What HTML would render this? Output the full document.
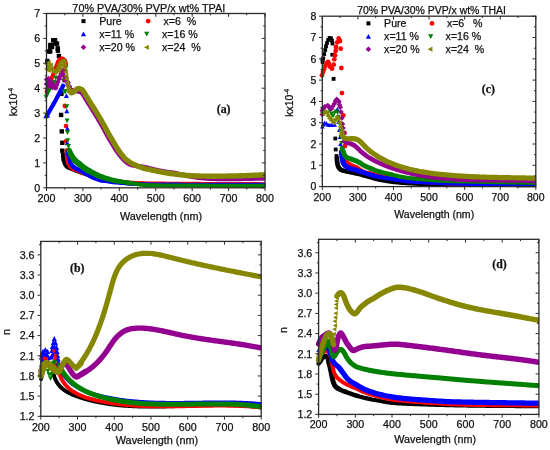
<!DOCTYPE html>
<html><head><meta charset="utf-8"><style>
html,body{margin:0;padding:0;background:#fff;}
body{width:550px;height:450px;overflow:hidden;font-family:"Liberation Sans",sans-serif;}
svg{display:block;will-change:transform;}
</style></head><body>
<svg width="550" height="450" viewBox="0 0 550 450" fill="#111" stroke-width="0">
<clipPath id="clipa"><rect x="34.50" y="11.50" width="230.80" height="178.30"/></clipPath>
<g clip-path="url(#clipa)">
<rect x="45.10" y="58.80" width="4.40" height="4.40" fill="#000000"/>
<rect x="51.00" y="38.00" width="4.40" height="4.40" fill="#000000"/>
<rect x="52.80" y="38.00" width="4.40" height="4.40" fill="#000000"/>
<rect x="53.30" y="41.20" width="4.40" height="4.40" fill="#000000"/>
<rect x="54.80" y="41.40" width="4.40" height="4.40" fill="#000000"/>
<rect x="48.10" y="42.80" width="4.40" height="4.40" fill="#000000"/>
<rect x="49.80" y="42.80" width="4.40" height="4.40" fill="#000000"/>
<rect x="48.10" y="44.80" width="4.40" height="4.40" fill="#000000"/>
<rect x="49.80" y="44.80" width="4.40" height="4.40" fill="#000000"/>
<rect x="46.10" y="49.30" width="4.40" height="4.40" fill="#000000"/>
<rect x="48.00" y="49.30" width="4.40" height="4.40" fill="#000000"/>
<rect x="55.50" y="46.10" width="4.40" height="4.40" fill="#000000"/>
<rect x="55.70" y="48.50" width="4.40" height="4.40" fill="#000000"/>
<rect x="56.70" y="53.80" width="4.40" height="4.40" fill="#000000"/>
<rect x="59.20" y="91.60" width="4.40" height="4.40" fill="#000000"/>
<rect x="58.90" y="112.70" width="4.40" height="4.40" fill="#000000"/>
<rect x="59.60" y="129.20" width="4.40" height="4.40" fill="#000000"/>
<rect x="60.10" y="140.60" width="4.40" height="4.40" fill="#000000"/>
<rect x="60.10" y="148.50" width="4.40" height="4.40" fill="#000000"/>
<rect x="60.90" y="152.80" width="4.40" height="4.40" fill="#000000"/>
<rect x="61.60" y="156.80" width="4.40" height="4.40" fill="#000000"/>
<polyline points="63.10,155.00 63.15,156.08 63.23,157.63 63.38,159.27 63.68,160.80 64.15,162.41 64.71,163.87 65.44,165.29 66.42,166.49 67.63,167.43 69.09,168.11 70.57,168.75 71.74,169.24 73.15,169.80 75.00,170.50 76.04,170.88 77.18,171.29 78.40,171.72 79.71,172.18 81.11,172.67 82.60,173.18 84.18,173.72 85.57,174.20 86.75,174.62 87.97,175.06 89.23,175.53 90.53,176.01 91.88,176.50 93.26,176.99 94.68,177.47 96.15,177.94 97.66,178.38 99.21,178.80 100.60,179.15 101.81,179.43 103.03,179.71 104.26,179.98 105.51,180.25 106.77,180.50 108.07,180.75 109.40,181.00 110.76,181.23 112.17,181.46 113.62,181.68 115.13,181.90 116.69,182.11 118.31,182.31 120.00,182.50 121.12,182.63 122.12,182.75 123.02,182.87 123.84,182.99 124.62,183.10 125.36,183.21 126.11,183.31 126.88,183.42 127.70,183.51 128.58,183.61 129.57,183.70 130.67,183.79 131.92,183.88 133.33,183.96 134.94,184.05 136.77,184.13 138.83,184.20 141.17,184.28 143.79,184.35 146.72,184.43 150.00,184.50 150.91,184.52 151.85,184.54 152.84,184.55 153.86,184.57 154.93,184.59 156.03,184.61 157.17,184.62 158.34,184.64 159.54,184.66 160.78,184.68 162.05,184.69 163.35,184.71 164.68,184.73 166.03,184.74 167.42,184.76 168.83,184.77 170.26,184.79 171.72,184.81 173.21,184.82 174.71,184.84 176.23,184.85 177.78,184.87 179.34,184.88 180.92,184.90 182.52,184.91 184.13,184.93 185.75,184.94 187.39,184.95 189.04,184.97 190.70,184.98 192.37,185.00 194.05,185.01 195.74,185.02 197.43,185.04 199.13,185.05 200.83,185.06 202.54,185.08 204.25,185.09 205.96,185.10 207.67,185.11 209.38,185.12 211.08,185.14 212.78,185.15 214.48,185.16 216.17,185.17 217.86,185.18 219.54,185.20 221.21,185.21 222.87,185.22 224.52,185.23 226.16,185.24 227.78,185.25 229.39,185.26 230.98,185.27 232.56,185.28 234.12,185.29 235.66,185.30 237.19,185.31 238.69,185.32 240.17,185.33 241.62,185.34 243.06,185.35 244.46,185.36 245.85,185.37 247.20,185.37 248.53,185.38 249.82,185.39 251.09,185.40 252.32,185.41 253.53,185.42 254.69,185.42 255.83,185.43 256.92,185.44 257.98,185.45 259.01,185.45 259.99,185.46 260.93,185.47 261.83,185.47 262.69,185.48 263.51,185.49 264.28,185.49 265.00,185.50 265.00,185.50" fill="none" stroke="#000000" stroke-width="3.8" stroke-linejoin="round" stroke-linecap="round"/>
<circle cx="46.50" cy="91.50" r="1.90" fill="#ff0000"/>
<circle cx="47.30" cy="89.50" r="1.90" fill="#ff0000"/>
<polyline points="47.00,90.00 47.39,88.96 47.94,87.48 48.50,86.00 49.00,84.65 49.50,83.30 50.00,82.00 50.60,80.56 51.20,79.19 51.79,77.82 52.36,76.51 53.00,75.00 53.53,73.70 54.12,72.26 54.71,70.75 55.25,69.32 55.77,67.89 56.29,66.44 56.77,65.10 57.32,63.65 57.89,62.20 58.50,61.00 59.50,59.81 60.50,59.00 62.00,58.50 63.35,59.00 64.43,59.98 65.21,61.23 65.67,62.77 65.88,64.62 66.00,66.00 66.00,66.00" fill="none" stroke="#ff0000" stroke-width="4.2" stroke-linejoin="round" stroke-linecap="round"/>
<circle cx="64.80" cy="105.80" r="2.30" fill="#ff0000"/>
<circle cx="65.40" cy="106.30" r="2.30" fill="#ff0000"/>
<circle cx="66.00" cy="126.00" r="2.30" fill="#ff0000"/>
<circle cx="65.90" cy="141.20" r="2.30" fill="#ff0000"/>
<circle cx="66.80" cy="150.50" r="2.30" fill="#ff0000"/>
<circle cx="67.20" cy="156.00" r="2.30" fill="#ff0000"/>
<polyline points="66.50,152.00 66.57,153.08 66.66,154.62 66.79,156.36 67.00,158.00 67.28,159.56 67.62,161.16 68.03,162.68 68.50,164.00 69.24,165.41 70.09,166.54 71.00,167.50 72.16,168.46 73.39,169.19 74.63,169.77 75.90,170.13 77.47,170.67 78.48,171.06 79.62,171.51 80.92,172.01 82.39,172.56 84.07,173.17 85.53,173.69 86.65,174.10 87.83,174.54 89.08,175.02 90.39,175.51 91.75,176.01 93.16,176.51 94.62,177.00 96.11,177.47 97.64,177.91 99.21,178.31 100.63,178.64 101.88,178.91 103.14,179.16 104.41,179.40 105.71,179.63 107.03,179.84 108.38,180.05 109.76,180.25 111.18,180.44 111.91,180.53" fill="none" stroke="#ff0000" stroke-width="4.0" stroke-linejoin="round" stroke-linecap="round"/>
<polyline points="111.91,180.53 113.41,180.71 114.96,180.89 116.57,181.06 118.25,181.23 120.00,181.40 121.12,181.51 122.12,181.62 123.02,181.72 123.84,181.83 124.62,181.93 125.36,182.03 126.11,182.12 126.88,182.22 127.70,182.31 128.58,182.39 129.57,182.48 130.67,182.56 131.92,182.64 133.33,182.72 134.94,182.80 136.77,182.87 138.83,182.94 141.17,183.01 142.44,183.04" fill="none" stroke="#ff0000" stroke-width="3.75" stroke-linejoin="round" stroke-linecap="round"/>
<polyline points="142.44,183.04 145.22,183.11 148.32,183.17 150.45,183.21 151.37,183.22 152.34,183.24 153.35,183.25 154.39,183.27 155.47,183.28 156.59,183.29 157.75,183.31 158.94,183.32 160.16,183.34 161.41,183.35 162.69,183.36 164.01,183.37 165.35,183.39 166.72,183.40 168.12,183.41 169.54,183.42 170.99,183.43 172.46,183.45 173.95,183.46 175.47,183.47 177.00,183.48 178.56,183.49 180.13,183.50 181.72,183.51 183.32,183.52 184.94,183.53 186.57,183.54 188.21,183.55 189.87,183.56 191.54,183.57 193.21,183.58 194.89,183.59 196.58,183.60 198.28,183.61 199.98,183.62 201.69,183.63 203.39,183.63 205.10,183.64 206.81,183.65 208.52,183.66 210.23,183.67 211.93,183.67 213.63,183.68 215.33,183.69 217.02,183.70 218.70,183.70 220.38,183.71 222.04,183.72 223.70,183.73 225.34,183.73 226.97,183.74 228.59,183.75 230.19,183.75 231.77,183.76 233.34,183.76 234.90,183.77 236.43,183.78 237.94,183.78 239.43,183.79 240.90,183.79 242.34,183.80 243.76,183.81 245.16,183.81 246.53,183.82 247.87,183.82 249.18,183.83 250.46,183.83 251.71,183.84 252.93,183.84 254.11,183.85 255.26,183.85 256.38,183.86 257.46,183.86 258.50,183.87 259.50,183.87 260.46,183.88 261.39,183.88 262.27,183.88 263.10,183.89 263.90,183.89 264.64,183.90 265.00,183.90" fill="none" stroke="#ff0000" stroke-width="3.5" stroke-linejoin="round" stroke-linecap="round"/>
<polyline points="46.50,116.00 47.80,114.00 55.80,100.00 63.00,86.00 63.80,84.00" fill="none" stroke="#0000ff" stroke-width="4.3" stroke-linejoin="round" stroke-linecap="butt"/>
<polygon points="45.80,113.50 48.30,118.25 43.30,118.25" fill="#0000ff"/>
<polygon points="47.50,113.00 50.00,117.75 45.00,117.75" fill="#0000ff"/>
<polygon points="66.40,93.20 68.90,97.95 63.90,97.95" fill="#0000ff"/>
<polygon points="66.80,108.50 69.30,113.25 64.30,113.25" fill="#0000ff"/>
<polygon points="67.40,126.00 69.90,130.75 64.90,130.75" fill="#0000ff"/>
<polygon points="67.30,140.50 69.80,145.25 64.80,145.25" fill="#0000ff"/>
<polygon points="68.00,147.50 70.50,152.25 65.50,152.25" fill="#0000ff"/>
<polyline points="68.00,153.00 68.20,154.06 68.48,155.59 68.82,157.24 69.18,158.73 69.56,160.22 69.98,161.68 70.50,163.00 71.24,164.33 72.09,165.50 73.00,166.50 74.21,167.46 75.46,168.19 76.59,168.83 78.00,169.50 79.03,170.00 80.28,170.61 81.70,171.31 83.22,172.09 84.55,172.80 85.71,173.47 86.93,174.19 88.19,174.94 89.47,175.68 90.75,176.38 92.00,177.00 93.31,177.60 94.59,178.16 95.88,178.68 97.19,179.16 98.55,179.60 100.00,180.00 101.32,180.31 101.32,180.31" fill="none" stroke="#0000ff" stroke-width="4.5" stroke-linejoin="round" stroke-linecap="round"/>
<polyline points="101.32,180.31 102.71,180.57 104.15,180.80 105.61,181.02 107.08,181.21 108.55,181.40 110.00,181.60 111.21,181.79 112.13,181.96 112.97,182.13 112.97,182.13" fill="none" stroke="#0000ff" stroke-width="4.25" stroke-linejoin="round" stroke-linecap="round"/>
<polyline points="112.97,182.13 113.97,182.29 115.32,182.45 117.26,182.62 120.00,182.80 120.88,182.86 121.73,182.91 122.56,182.97 123.38,183.03 124.20,183.10 125.03,183.16 125.87,183.23 126.74,183.30 127.65,183.36 128.60,183.43 129.61,183.50 130.68,183.57 131.84,183.63 133.07,183.70 134.40,183.76 135.83,183.83 135.83,183.83" fill="none" stroke="#0000ff" stroke-width="4.0" stroke-linejoin="round" stroke-linecap="round"/>
<polyline points="135.83,183.83 137.38,183.89 139.05,183.95 140.85,184.01 142.80,184.07 144.90,184.12 147.16,184.17 149.59,184.22 152.20,184.26 155.00,184.30 155.94,184.31 156.93,184.32 157.96,184.34 159.02,184.35 160.12,184.36 161.26,184.37 162.43,184.38 163.64,184.39 164.88,184.40 166.15,184.41 167.46,184.42 168.79,184.43 170.15,184.43 171.54,184.44 172.95,184.45 174.39,184.46 175.86,184.47 177.34,184.47 178.85,184.48 180.38,184.49 181.93,184.50 183.49,184.50 185.08,184.51 186.67,184.52 188.29,184.52 189.91,184.53 191.55,184.53 193.20,184.54 194.86,184.55 196.53,184.55 198.21,184.56 199.89,184.56 201.58,184.57 203.27,184.57 204.97,184.58 206.67,184.58 208.37,184.58 210.07,184.59 211.76,184.59 213.46,184.60 215.15,184.60 216.84,184.60 218.52,184.61 220.19,184.61 221.86,184.61 223.51,184.62 225.16,184.62 226.79,184.62 228.41,184.63 230.02,184.63 231.61,184.63 233.18,184.64 234.74,184.64 236.28,184.64 237.80,184.64 239.30,184.65 240.77,184.65 242.23,184.65 243.65,184.65 245.06,184.66 246.43,184.66 247.78,184.66 249.10,184.66 250.39,184.67 251.65,184.67 252.88,184.67 254.07,184.67 255.23,184.68 256.35,184.68 257.43,184.68 258.48,184.68 259.49,184.68 260.45,184.69 261.38,184.69 262.26,184.69 263.10,184.69 263.90,184.70 264.64,184.70 265.00,184.70" fill="none" stroke="#0000ff" stroke-width="3.75" stroke-linejoin="round" stroke-linecap="round"/>
<polygon points="46.00,99.50 48.50,94.75 43.50,94.75" fill="#008000"/>
<polygon points="47.00,97.50 49.50,92.75 44.50,92.75" fill="#008000"/>
<polygon points="48.00,95.50 50.50,90.75 45.50,90.75" fill="#008000"/>
<polygon points="49.00,93.50 51.50,88.75 46.50,88.75" fill="#008000"/>
<polygon points="50.00,91.50 52.50,86.75 47.50,86.75" fill="#008000"/>
<polygon points="51.00,90.00 53.50,85.25 48.50,85.25" fill="#008000"/>
<polygon points="55.60,80.30 58.10,75.55 53.10,75.55" fill="#008000"/>
<polygon points="54.50,84.50 57.00,79.75 52.00,79.75" fill="#008000"/>
<polygon points="54.00,87.00 56.50,82.25 51.50,82.25" fill="#008000"/>
<polygon points="63.20,83.20 65.70,78.45 60.70,78.45" fill="#008000"/>
<polygon points="64.50,93.70 67.00,88.95 62.00,88.95" fill="#008000"/>
<polygon points="65.30,94.30 67.80,89.55 62.80,89.55" fill="#008000"/>
<polygon points="66.80,109.10 69.30,104.35 64.30,104.35" fill="#008000"/>
<polygon points="67.10,123.20 69.60,118.45 64.60,118.45" fill="#008000"/>
<polygon points="67.50,135.00 70.00,130.25 65.00,130.25" fill="#008000"/>
<polygon points="67.80,143.10 70.30,138.35 65.30,138.35" fill="#008000"/>
<polygon points="68.50,148.80 71.00,144.05 66.00,144.05" fill="#008000"/>
<polyline points="69.00,150.00 69.44,151.10 69.44,151.10" fill="none" stroke="#008000" stroke-width="5.0" stroke-linejoin="round" stroke-linecap="round"/>
<polyline points="69.44,151.10 70.11,152.68 70.11,152.68" fill="none" stroke="#008000" stroke-width="5.25" stroke-linejoin="round" stroke-linecap="round"/>
<polyline points="70.11,152.68 70.80,154.10 71.45,155.40 71.45,155.40" fill="none" stroke="#008000" stroke-width="5.5" stroke-linejoin="round" stroke-linecap="round"/>
<polyline points="71.45,155.40 72.18,156.74 73.00,158.00 73.93,159.17 74.43,159.74" fill="none" stroke="#008000" stroke-width="5.75" stroke-linejoin="round" stroke-linecap="round"/>
<polyline points="74.43,159.74 75.47,160.81 76.50,161.80 77.61,162.73 78.72,163.54 80.00,164.50 80.97,165.30 82.01,166.19 83.13,167.12 84.35,168.05 85.56,168.86 86.74,169.60 87.99,170.33 89.30,171.06 89.30,171.06" fill="none" stroke="#008000" stroke-width="6.0" stroke-linejoin="round" stroke-linecap="round"/>
<polyline points="89.30,171.06 90.64,171.78 92.00,172.50 93.25,173.15 94.52,173.80 95.81,174.45 96.47,174.77" fill="none" stroke="#008000" stroke-width="5.75" stroke-linejoin="round" stroke-linecap="round"/>
<polyline points="96.47,174.77 97.84,175.40 99.26,176.00 100.65,176.55 102.01,177.05 102.71,177.29" fill="none" stroke="#008000" stroke-width="5.5" stroke-linejoin="round" stroke-linecap="round"/>
<polyline points="102.71,177.29 104.15,177.78 105.61,178.24 107.08,178.69 107.82,178.90" fill="none" stroke="#008000" stroke-width="5.25" stroke-linejoin="round" stroke-linecap="round"/>
<polyline points="107.82,178.90 109.28,179.31 110.70,179.68 112.05,180.01 113.37,180.30 113.37,180.30" fill="none" stroke="#008000" stroke-width="5.0" stroke-linejoin="round" stroke-linecap="round"/>
<polyline points="113.37,180.30 114.69,180.57 116.06,180.83 117.53,181.09 119.13,181.36 120.00,181.50" fill="none" stroke="#008000" stroke-width="4.75" stroke-linejoin="round" stroke-linecap="round"/>
<polyline points="120.00,181.50 121.21,181.70 122.47,181.90 123.78,182.11 125.12,182.32 126.52,182.52 127.96,182.73 127.96,182.73" fill="none" stroke="#008000" stroke-width="4.5" stroke-linejoin="round" stroke-linecap="round"/>
<polyline points="127.96,182.73 129.44,182.93 130.98,183.13 132.55,183.33 134.17,183.51 135.58,183.67 136.47,183.80 137.09,183.93 137.33,184.00" fill="none" stroke="#008000" stroke-width="4.25" stroke-linejoin="round" stroke-linecap="round"/>
<polyline points="137.33,184.00 137.73,184.13 138.08,184.26 138.50,184.38 139.06,184.51 139.87,184.62 141.01,184.74 142.58,184.84 144.67,184.95 145.94,184.99" fill="none" stroke="#008000" stroke-width="4.0" stroke-linejoin="round" stroke-linecap="round"/>
<polyline points="145.94,184.99 148.99,185.08 152.79,185.16 155.42,185.21 156.29,185.22 157.21,185.23 158.18,185.24 159.18,185.25 160.23,185.27 161.32,185.28 162.45,185.29 163.61,185.30 164.81,185.31 166.05,185.32 167.32,185.33 168.62,185.34 169.96,185.34 171.32,185.35 172.72,185.36 174.14,185.37 175.59,185.38 177.06,185.39 178.56,185.39 180.08,185.40 181.62,185.41 183.19,185.41 184.77,185.42 186.37,185.43 187.99,185.43 189.62,185.44 191.27,185.44 192.93,185.45 194.60,185.46 196.28,185.46 197.97,185.47 199.67,185.47 201.37,185.48 203.09,185.48 204.80,185.48 206.52,185.49 208.24,185.49 209.96,185.50 211.68,185.50 213.40,185.50 215.11,185.51 216.82,185.51 218.53,185.52 220.23,185.52 221.92,185.52 223.60,185.52 225.27,185.53 226.92,185.53 228.57,185.53 230.20,185.54 231.82,185.54 233.41,185.54 234.99,185.54 236.55,185.55 238.09,185.55 239.61,185.55 241.11,185.55 242.58,185.56 244.03,185.56 245.44,185.56 246.84,185.56 248.20,185.56 249.53,185.57 250.83,185.57 252.10,185.57 253.33,185.57 254.52,185.57 255.69,185.58 256.81,185.58 257.89,185.58 258.93,185.58 259.94,185.59 260.89,185.59 261.81,185.59 262.68,185.59 263.50,185.60 264.27,185.60 265.00,185.60 265.00,185.60" fill="none" stroke="#008000" stroke-width="3.75" stroke-linejoin="round" stroke-linecap="round"/>
<polygon points="46.50,76.80 49.20,79.50 46.50,82.20 43.80,79.50" fill="#940090"/>
<polygon points="46.50,81.30 49.20,84.00 46.50,86.70 43.80,84.00" fill="#940090"/>
<polygon points="48.50,75.80 51.20,78.50 48.50,81.20 45.80,78.50" fill="#940090"/>
<polygon points="48.50,79.80 51.20,82.50 48.50,85.20 45.80,82.50" fill="#940090"/>
<polygon points="48.50,83.30 51.20,86.00 48.50,88.70 45.80,86.00" fill="#940090"/>
<polygon points="50.50,78.80 53.20,81.50 50.50,84.20 47.80,81.50" fill="#940090"/>
<polygon points="50.50,82.80 53.20,85.50 50.50,88.20 47.80,85.50" fill="#940090"/>
<polygon points="52.50,81.30 55.20,84.00 52.50,86.70 49.80,84.00" fill="#940090"/>
<polygon points="52.50,84.80 55.20,87.50 52.50,90.20 49.80,87.50" fill="#940090"/>
<polygon points="54.50,84.80 57.20,87.50 54.50,90.20 51.80,87.50" fill="#940090"/>
<polygon points="56.00,85.30 58.70,88.00 56.00,90.70 53.30,88.00" fill="#940090"/>
<polygon points="57.00,82.30 59.70,85.00 57.00,87.70 54.30,85.00" fill="#940090"/>
<polygon points="58.00,79.30 60.70,82.00 58.00,84.70 55.30,82.00" fill="#940090"/>
<polygon points="59.00,76.30 61.70,79.00 59.00,81.70 56.30,79.00" fill="#940090"/>
<polygon points="60.00,73.80 62.70,76.50 60.00,79.20 57.30,76.50" fill="#940090"/>
<polygon points="61.00,71.30 63.70,74.00 61.00,76.70 58.30,74.00" fill="#940090"/>
<polygon points="62.00,69.30 64.70,72.00 62.00,74.70 59.30,72.00" fill="#940090"/>
<polygon points="63.00,67.30 65.70,70.00 63.00,72.70 60.30,70.00" fill="#940090"/>
<polygon points="64.00,66.80 66.70,69.50 64.00,72.20 61.30,69.50" fill="#940090"/>
<polygon points="62.00,71.30 64.70,74.00 62.00,76.70 59.30,74.00" fill="#940090"/>
<polygon points="63.50,72.80 66.20,75.50 63.50,78.20 60.80,75.50" fill="#940090"/>
<polygon points="59.00,75.30 61.70,78.00 59.00,80.70 56.30,78.00" fill="#940090"/>
<polygon points="64.50,68.80 67.20,71.50 64.50,74.20 61.80,71.50" fill="#940090"/>
<polygon points="64.50,73.80 67.20,76.50 64.50,79.20 61.80,76.50" fill="#940090"/>
<polygon points="64.50,77.30 67.20,80.00 64.50,82.70 61.80,80.00" fill="#940090"/>
<polygon points="66.00,76.80 68.70,79.50 66.00,82.20 63.30,79.50" fill="#940090"/>
<polygon points="67.00,79.80 69.70,82.50 67.00,85.20 64.30,82.50" fill="#940090"/>
<polygon points="68.20,79.80 70.90,82.50 68.20,85.20 65.50,82.50" fill="#940090"/>
<polygon points="68.50,83.30 71.20,86.00 68.50,88.70 65.80,86.00" fill="#940090"/>
<polygon points="69.50,83.80 72.20,86.50 69.50,89.20 66.80,86.50" fill="#940090"/>
<polygon points="70.50,86.30 73.20,89.00 70.50,91.70 67.80,89.00" fill="#940090"/>
<polygon points="71.80,87.30 74.50,90.00 71.80,92.70 69.10,90.00" fill="#940090"/>
<polyline points="73.00,91.50 74.17,90.71 75.72,90.64 77.37,91.30 78.93,91.59 80.39,91.50 81.70,92.65 82.36,93.53 83.07,94.59 83.83,95.80 84.64,97.11 85.47,98.50 86.31,99.91 87.17,101.31 87.95,102.55 88.66,103.68 89.41,104.86 90.17,106.07 90.94,107.30 91.72,108.54 92.50,109.78 93.26,111.02 94.02,112.23 94.75,113.42 95.49,114.65 96.29,115.97 97.09,117.31 97.89,118.65 98.66,119.97 99.41,121.24 100.11,122.44 100.76,123.55 101.34,124.55 102.16,125.97 102.90,127.28 103.43,128.26 104.10,129.50 104.74,130.69 105.44,132.00 106.17,133.38 106.90,134.73 107.60,136.00 108.34,137.30 109.05,138.54 109.76,139.74 110.45,140.92 111.18,142.15 111.94,143.42 112.68,144.65 113.42,145.88 114.18,147.12 114.93,148.35 115.69,149.57 116.48,150.79 117.33,152.00 118.21,153.21 119.13,154.40 120.10,155.60 121.05,156.74 121.98,157.85 122.94,158.96 123.95,160.02 125.00,161.00 126.09,161.90 127.22,162.75 128.40,163.53 129.64,164.21 130.98,164.76 132.42,165.17 133.92,165.48 135.46,165.74 137.00,166.00 138.40,166.22 139.83,166.41 141.26,166.59 142.66,166.78 144.00,167.00 145.48,167.32 146.81,167.67 148.24,168.06 150.00,168.50 151.17,168.79 152.42,169.10 153.74,169.42 155.15,169.77 156.66,170.11 158.27,170.46 160.00,170.80 161.25,171.03 162.62,171.26 164.07,171.49 165.57,171.72 167.11,171.96 168.66,172.19 170.19,172.43 171.67,172.65 173.08,172.88 174.39,173.09 175.87,173.36 177.47,173.66 178.94,173.94 180.31,174.22 181.63,174.50 182.95,174.78 184.30,175.06 185.70,175.34 187.05,175.64 188.37,175.94 189.69,176.24 191.06,176.53 192.53,176.81 194.13,177.08 195.60,177.28 196.84,177.44 198.12,177.60 199.44,177.75 200.82,177.89 202.23,178.03 203.70,178.17 205.20,178.29 206.76,178.40 208.36,178.51 210.00,178.60 211.24,178.66 212.46,178.72 213.68,178.77 214.91,178.82 216.16,178.86 217.43,178.90 218.75,178.93 220.12,178.96 221.55,178.98 223.05,179.00 224.63,179.01 226.31,179.01 228.10,179.01 230.00,179.00 231.15,178.99 232.40,178.98 233.72,178.96 235.13,178.94 236.60,178.92 238.13,178.89 239.70,178.86 241.31,178.83 242.95,178.80 244.60,178.77 246.26,178.73 247.92,178.69 249.57,178.66 251.20,178.62 252.80,178.58 254.36,178.55 255.87,178.51 257.32,178.48 258.70,178.44 260.00,178.41 261.21,178.38 262.33,178.36 263.34,178.34 264.23,178.32 265.00,178.30 265.00,178.30" fill="none" stroke="#940090" stroke-width="4.6" stroke-linejoin="round" stroke-linecap="round"/>
<polygon points="43.90,64.00 48.84,61.40 48.84,66.60" fill="#858700"/>
<polygon points="43.90,69.00 48.84,66.40 48.84,71.60" fill="#858700"/>
<polygon points="45.90,62.50 50.84,59.90 50.84,65.10" fill="#858700"/>
<polygon points="45.90,66.50 50.84,63.90 50.84,69.10" fill="#858700"/>
<polygon points="45.90,70.50 50.84,67.90 50.84,73.10" fill="#858700"/>
<polygon points="47.90,65.00 52.84,62.40 52.84,67.60" fill="#858700"/>
<polygon points="47.90,69.00 52.84,66.40 52.84,71.60" fill="#858700"/>
<polygon points="49.40,68.50 54.34,65.90 54.34,71.10" fill="#858700"/>
<polygon points="50.40,71.00 55.34,68.40 55.34,73.60" fill="#858700"/>
<polygon points="51.90,72.50 56.84,69.90 56.84,75.10" fill="#858700"/>
<polygon points="53.40,72.00 58.34,69.40 58.34,74.60" fill="#858700"/>
<polygon points="54.40,69.50 59.34,66.90 59.34,72.10" fill="#858700"/>
<polygon points="55.40,67.00 60.34,64.40 60.34,69.60" fill="#858700"/>
<polygon points="56.40,64.50 61.34,61.90 61.34,67.10" fill="#858700"/>
<polygon points="57.40,62.50 62.34,59.90 62.34,65.10" fill="#858700"/>
<polygon points="58.90,61.00 63.84,58.40 63.84,63.60" fill="#858700"/>
<polygon points="60.40,60.50 65.34,57.90 65.34,63.10" fill="#858700"/>
<polygon points="61.40,62.00 66.34,59.40 66.34,64.60" fill="#858700"/>
<polygon points="59.40,65.00 64.34,62.40 64.34,67.60" fill="#858700"/>
<polygon points="57.40,68.00 62.34,65.40 62.34,70.60" fill="#858700"/>
<polygon points="61.90,65.00 66.84,62.40 66.84,67.60" fill="#858700"/>
<polygon points="62.40,68.50 67.34,65.90 67.34,71.10" fill="#858700"/>
<polygon points="62.90,72.00 67.84,69.40 67.84,74.60" fill="#858700"/>
<polygon points="55.90,71.00 60.84,68.40 60.84,73.60" fill="#858700"/>
<polygon points="63.40,76.00 68.34,73.40 68.34,78.60" fill="#858700"/>
<polygon points="63.80,79.00 68.74,76.40 68.74,81.60" fill="#858700"/>
<polygon points="64.40,82.50 69.34,79.90 69.34,85.10" fill="#858700"/>
<polygon points="64.90,85.50 69.84,82.90 69.84,88.10" fill="#858700"/>
<polygon points="65.60,88.00 70.54,85.40 70.54,90.60" fill="#858700"/>
<polygon points="66.40,90.50 71.34,87.90 71.34,93.10" fill="#858700"/>
<polyline points="69.00,90.50 70.04,91.73 71.40,92.80 72.66,92.45 74.00,91.50 75.22,90.49 76.46,89.39 78.06,88.55 79.67,88.61 81.00,89.20 82.04,89.63 83.26,91.18 83.86,92.08 84.53,93.16 85.27,94.36 86.06,95.66 86.88,97.03 87.73,98.42 88.58,99.82 89.34,101.05 90.05,102.18 90.79,103.36 91.55,104.57 92.33,105.80 93.11,107.04 93.89,108.28 94.66,109.52 95.41,110.73 96.15,111.92 96.89,113.15 97.69,114.47 98.49,115.81 99.29,117.15 100.06,118.47 100.81,119.74 101.51,120.94 102.16,122.05 102.74,123.05 103.56,124.47 104.30,125.78 104.83,126.76 105.50,128.00 106.14,129.19 106.84,130.50 107.57,131.88 108.30,133.23 109.00,134.50 109.74,135.80 110.45,137.04 111.16,138.24 111.85,139.42 112.58,140.65 113.34,141.91 114.08,143.15 114.82,144.38 115.58,145.62 116.33,146.88 117.09,148.12 117.88,149.38 118.73,150.62 119.60,151.88 120.52,153.12 121.49,154.38 122.46,155.56 123.36,156.69 124.31,157.81 125.37,158.92 126.60,160.00 127.64,160.79 128.76,161.56 129.96,162.33 131.24,163.07 132.58,163.80 134.00,164.50 135.23,165.06 136.58,165.63 138.00,166.19 139.45,166.73 140.87,167.24 142.21,167.71 143.44,168.12 144.91,168.58 146.37,168.93 147.63,169.16 149.09,169.41 150.58,169.73 151.79,170.01 153.07,170.32 154.44,170.64 155.90,170.97 157.45,171.31 159.12,171.64 160.61,171.91 161.88,172.13 163.23,172.36 164.63,172.59 166.08,172.82 167.56,173.05 169.06,173.28 170.57,173.50 172.07,173.71 173.55,173.91 175.00,174.10 176.41,174.28 177.78,174.45 179.14,174.61 180.49,174.77 181.85,174.92 183.22,175.06 184.63,175.20 186.08,175.32 187.59,175.44 189.18,175.55 190.63,175.64 191.88,175.71 193.14,175.77 194.41,175.84 195.71,175.89 197.03,175.95 198.38,176.00 199.76,176.04 201.18,176.08 202.66,176.11 204.18,176.14 205.76,176.16 207.40,176.18 209.12,176.20 210.60,176.20 211.85,176.20 213.14,176.20 214.48,176.20 215.86,176.19 217.27,176.18 218.71,176.17 220.18,176.16 221.67,176.14 223.17,176.12 224.69,176.10 226.21,176.08 227.73,176.05 229.24,176.03 230.75,176.00 232.25,175.97 233.72,175.94 235.17,175.91 236.60,175.88 237.99,175.85 239.34,175.82 240.79,175.78 242.41,175.73 244.05,175.68 245.72,175.62 247.40,175.56 249.07,175.50 250.74,175.43 252.38,175.36 253.98,175.29 255.54,175.22 257.04,175.16 258.47,175.09 259.83,175.03 261.09,174.97 262.25,174.92 263.29,174.87 264.21,174.83 265.00,174.80 265.00,174.80" fill="none" stroke="#858700" stroke-width="5.4" stroke-linejoin="round" stroke-linecap="round"/>
</g>
<clipPath id="clipb"><rect x="28.80" y="239.40" width="232.70" height="178.90"/></clipPath>
<g clip-path="url(#clipb)">
<polyline points="41.00,379.00 41.26,377.92 41.62,376.38 42.05,374.64 42.50,373.00 42.95,371.55 43.46,370.00 43.96,368.56 44.36,367.40 44.50,367.00" fill="none" stroke="#000000" stroke-width="4.0" stroke-linejoin="round" stroke-linecap="round"/>
<polyline points="52.71,369.19 52.92,370.90 53.20,372.55 53.55,374.13 53.96,375.65 54.44,377.10 54.98,378.49 55.57,379.81 56.22,381.08 56.93,382.29 57.69,383.45 58.50,384.55 59.36,385.60 60.26,386.59 61.21,387.54 62.20,388.43 63.24,389.28 64.30,390.09 65.41,390.85 66.55,391.57 67.71,392.25 68.91,392.90 70.13,393.52 71.37,394.10 72.63,394.65 73.91,395.18 75.21,395.69 76.52,396.17 77.83,396.64 79.16,397.09 80.49,397.52 81.82,397.94 83.15,398.35 84.49,398.75 85.83,399.13 87.18,399.50 88.52,399.86 89.87,400.21 91.22,400.55 92.58,400.88 93.93,401.19 95.29,401.50 96.66,401.79 98.02,402.07 99.39,402.34 100.76,402.61 102.13,402.86 103.50,403.10 104.88,403.33 106.26,403.55 107.64,403.77 109.02,403.97 110.40,404.16 111.79,404.35 113.18,404.52 114.57,404.69 115.96,404.85 117.35,405.00 118.75,405.15 120.15,405.28 121.55,405.41 122.95,405.53 124.35,405.64 125.75,405.74 127.16,405.84 128.56,405.93 129.97,406.02 131.38,406.09 132.79,406.16 134.21,406.23 135.62,406.29 137.03,406.34 138.45,406.39 139.87,406.43 141.28,406.46 142.70,406.49 144.12,406.52 145.54,406.54 146.97,406.56 148.39,406.57 149.81,406.57 151.24,406.58 152.66,406.57 154.09,406.57 155.51,406.56 156.94,406.55 158.37,406.53 159.79,406.51 161.22,406.49 162.65,406.46 164.08,406.43 165.51,406.40 166.94,406.37 168.37,406.33 169.80,406.29 171.23,406.25 172.66,406.21 174.09,406.17 175.52,406.12 176.95,406.08 178.38,406.03 179.81,405.98 181.24,405.94 182.67,405.89 184.09,405.84 185.52,405.79 186.95,405.74 188.38,405.69 189.81,405.64 191.23,405.59 192.66,405.54 194.09,405.49 195.51,405.45 196.94,405.40 198.36,405.36 199.78,405.31 201.20,405.27 202.63,405.23 204.05,405.19 205.47,405.16 206.88,405.13 208.30,405.09 209.72,405.07 211.13,405.04 212.55,405.02 213.96,405.00 215.37,404.98 216.78,404.97 218.19,404.96 219.60,404.96 221.00,404.96 222.41,404.96 223.81,404.97 225.21,404.98 226.61,404.99 228.01,405.01 229.41,405.04 230.80,405.07 232.20,405.11 233.59,405.15 234.98,405.20 236.36,405.25 237.75,405.31 239.13,405.37 240.51,405.45 241.89,405.52 243.27,405.61 244.64,405.70 246.02,405.80 247.39,405.91 248.75,406.02 250.12,406.14 251.48,406.27 252.84,406.40 254.20,406.55 255.56,406.70 256.91,406.86 258.26,407.03 259.61,407.21 260.95,407.39 260.95,407.39" fill="none" stroke="#000000" stroke-width="4.0" stroke-linejoin="round" stroke-linecap="round"/>
<circle cx="44.00" cy="357.00" r="2.20" fill="#ff0000"/>
<circle cx="45.50" cy="355.50" r="2.20" fill="#ff0000"/>
<circle cx="44.50" cy="359.50" r="2.20" fill="#ff0000"/>
<circle cx="46.50" cy="358.50" r="2.20" fill="#ff0000"/>
<circle cx="42.50" cy="362.00" r="2.20" fill="#ff0000"/>
<circle cx="46.00" cy="362.00" r="2.20" fill="#ff0000"/>
<circle cx="53.00" cy="350.00" r="2.20" fill="#ff0000"/>
<circle cx="55.00" cy="351.00" r="2.20" fill="#ff0000"/>
<circle cx="54.00" cy="354.00" r="2.20" fill="#ff0000"/>
<circle cx="55.50" cy="357.00" r="2.20" fill="#ff0000"/>
<circle cx="56.00" cy="353.00" r="2.20" fill="#ff0000"/>
<circle cx="53.50" cy="364.00" r="2.20" fill="#ff0000"/>
<circle cx="57.00" cy="365.00" r="2.20" fill="#ff0000"/>
<circle cx="55.50" cy="360.50" r="2.20" fill="#ff0000"/>
<polyline points="57.70,366.63 57.98,368.31 58.31,369.92 58.70,371.48 59.13,372.99 59.61,374.44 60.14,375.84 60.71,377.18 61.33,378.48 61.99,379.73 62.69,380.93 63.44,382.09 64.22,383.19 65.04,384.26 65.90,385.28 66.79,386.26 67.71,387.20 68.67,388.10 69.67,388.96 70.69,389.78 71.74,390.57 72.82,391.32 73.93,392.04 75.06,392.72 76.22,393.38 77.40,394.00 78.60,394.59 79.82,395.16 81.07,395.70 82.33,396.21 83.61,396.70 84.90,397.17 86.21,397.61 87.53,398.04 88.87,398.44 90.21,398.82 91.57,399.19 92.93,399.54 94.30,399.88 95.68,400.20 97.06,400.51 98.45,400.80 99.84,401.09 101.23,401.36 102.62,401.63 104.01,401.89 105.40,402.14 106.80,402.38 108.19,402.61 109.59,402.83 110.99,403.05 112.39,403.25 113.78,403.45 115.19,403.64 116.59,403.82 117.99,404.00 119.39,404.16 120.80,404.32 122.20,404.48 123.61,404.62 125.01,404.76 126.42,404.89 127.83,405.01 129.24,405.13 130.65,405.24 132.06,405.35 133.47,405.45 134.88,405.54 136.29,405.63 137.70,405.71 139.12,405.79 140.53,405.86 141.94,405.92 143.36,405.98 144.77,406.04 146.19,406.09 147.61,406.13 149.02,406.17 150.44,406.21 151.86,406.24 153.27,406.27 154.69,406.30 156.11,406.32 157.53,406.33 158.95,406.35 160.36,406.36 161.78,406.36 163.20,406.37 164.62,406.37 166.04,406.36 167.46,406.36 168.88,406.35 170.30,406.34 171.72,406.33 173.14,406.31 174.56,406.30 175.98,406.28 177.40,406.26 178.82,406.24 180.23,406.22 181.65,406.19 183.07,406.17 184.49,406.14 185.91,406.11 187.33,406.09 188.74,406.06 190.16,406.03 191.58,406.00 193.00,405.97 194.41,405.94 195.83,405.91 197.24,405.88 198.66,405.86 200.07,405.83 201.49,405.80 202.90,405.78 204.31,405.75 205.73,405.73 207.14,405.71 208.55,405.69 209.96,405.67 211.37,405.65 212.78,405.63 214.19,405.62 215.60,405.61 217.01,405.60 218.41,405.60 219.82,405.59 221.22,405.59 222.63,405.59 224.03,405.60 225.43,405.61 226.83,405.62 228.23,405.63 229.63,405.65 231.03,405.67 232.43,405.70 233.83,405.73 235.22,405.77 236.61,405.80 238.01,405.85 239.40,405.90 240.79,405.95 242.18,406.01 243.57,406.07 244.96,406.14 246.34,406.21 247.73,406.29 249.11,406.37 250.49,406.46 251.87,406.56 253.25,406.66 254.63,406.77 256.01,406.89 257.38,407.01 258.76,407.14 260.13,407.27 260.81,407.34" fill="none" stroke="#ff0000" stroke-width="4.0" stroke-linejoin="round" stroke-linecap="round"/>
<polygon points="45.30,347.10 48.00,352.23 42.60,352.23" fill="#0000ff"/>
<polygon points="43.00,348.80 45.70,353.93 40.30,353.93" fill="#0000ff"/>
<polygon points="47.50,348.80 50.20,353.93 44.80,353.93" fill="#0000ff"/>
<polygon points="42.00,351.30 44.70,356.43 39.30,356.43" fill="#0000ff"/>
<polygon points="44.50,350.80 47.20,355.93 41.80,355.93" fill="#0000ff"/>
<polygon points="47.00,351.80 49.70,356.93 44.30,356.93" fill="#0000ff"/>
<polygon points="41.50,354.30 44.20,359.43 38.80,359.43" fill="#0000ff"/>
<polygon points="44.00,354.30 46.70,359.43 41.30,359.43" fill="#0000ff"/>
<polygon points="46.50,354.80 49.20,359.93 43.80,359.93" fill="#0000ff"/>
<polygon points="48.50,354.80 51.20,359.93 45.80,359.93" fill="#0000ff"/>
<polygon points="42.50,357.30 45.20,362.43 39.80,362.43" fill="#0000ff"/>
<polygon points="48.00,357.80 50.70,362.93 45.30,362.93" fill="#0000ff"/>
<polygon points="54.30,336.10 57.00,341.23 51.60,341.23" fill="#0000ff"/>
<polygon points="53.50,339.80 56.20,344.93 50.80,344.93" fill="#0000ff"/>
<polygon points="55.50,340.30 58.20,345.43 52.80,345.43" fill="#0000ff"/>
<polygon points="52.50,343.80 55.20,348.93 49.80,348.93" fill="#0000ff"/>
<polygon points="54.50,344.30 57.20,349.43 51.80,349.43" fill="#0000ff"/>
<polygon points="56.50,344.80 59.20,349.93 53.80,349.93" fill="#0000ff"/>
<polygon points="52.00,347.80 54.70,352.93 49.30,352.93" fill="#0000ff"/>
<polygon points="54.50,348.30 57.20,353.43 51.80,353.43" fill="#0000ff"/>
<polygon points="57.00,348.80 59.70,353.93 54.30,353.93" fill="#0000ff"/>
<polygon points="52.50,351.80 55.20,356.93 49.80,356.93" fill="#0000ff"/>
<polygon points="57.50,352.80 60.20,357.93 54.80,357.93" fill="#0000ff"/>
<polygon points="58.00,356.30 60.70,361.43 55.30,361.43" fill="#0000ff"/>
<polygon points="58.50,359.80 61.20,364.93 55.80,364.93" fill="#0000ff"/>
<polygon points="59.50,362.80 62.20,367.93 56.80,367.93" fill="#0000ff"/>
<polygon points="51.50,354.30 54.20,359.43 48.80,359.43" fill="#0000ff"/>
<circle cx="44.30" cy="358.30" r="1.70" fill="#ff0000"/>
<circle cx="46.50" cy="358.80" r="1.70" fill="#ff0000"/>
<circle cx="53.80" cy="351.00" r="1.70" fill="#ff0000"/>
<circle cx="55.30" cy="356.50" r="1.70" fill="#ff0000"/>
<polyline points="58.55,365.01 59.11,366.49 59.71,367.92 60.35,369.30 61.02,370.63 61.73,371.92 62.47,373.17 63.25,374.37 64.06,375.53 64.90,376.64 65.77,377.72 66.67,378.75 67.61,379.75 68.57,380.71 69.55,381.63 70.57,382.52 71.61,383.37 72.67,384.19 73.75,384.98 74.86,385.74 75.99,386.46 77.14,387.16 78.31,387.83 79.50,388.47 80.71,389.08 81.93,389.67 83.17,390.24 84.42,390.78 85.69,391.30 86.97,391.79 88.26,392.27 89.56,392.73 90.87,393.17 92.20,393.59 93.53,394.00 94.86,394.39 96.20,394.77 97.55,395.13 98.90,395.49 100.26,395.83 101.62,396.16 102.98,396.48 104.34,396.79 105.71,397.09 107.08,397.38 108.45,397.66 109.82,397.94 111.20,398.20 112.57,398.45 113.95,398.70 115.34,398.93 116.72,399.16 118.11,399.38 119.49,399.59 120.89,399.79 122.28,399.98 123.67,400.17 125.07,400.35 126.46,400.52 127.86,400.68 129.26,400.84 130.67,400.98 132.07,401.13 133.48,401.26 134.88,401.39 136.29,401.51 137.70,401.62 139.11,401.73 140.53,401.83 141.94,401.93 143.36,402.02 144.77,402.11 146.19,402.18 147.61,402.26 149.03,402.33 150.45,402.39 151.87,402.45 153.29,402.50 154.71,402.55 156.13,402.59 157.56,402.63 158.98,402.67 160.41,402.70 161.83,402.73 163.26,402.75 164.69,402.77 166.11,402.79 167.54,402.81 168.97,402.82 170.40,402.82 171.82,402.83 173.25,402.83 174.68,402.83 176.11,402.83 177.54,402.82 178.97,402.82 180.39,402.81 181.82,402.79 183.25,402.78 184.68,402.77 186.10,402.75 187.53,402.74 188.96,402.72 190.38,402.70 191.81,402.68 193.23,402.66 194.66,402.64 196.08,402.62 197.50,402.60 198.93,402.58 200.35,402.56 201.77,402.53 203.19,402.51 204.61,402.50 206.02,402.48 207.44,402.46 208.86,402.44 210.27,402.43 211.68,402.41 213.10,402.40 214.51,402.39 215.91,402.38 217.32,402.37 218.73,402.37 220.13,402.36 221.54,402.36 222.94,402.36 224.34,402.37 225.74,402.38 227.13,402.39 228.53,402.40 229.92,402.42 231.31,402.44 232.70,402.46 234.09,402.49 235.47,402.52 236.86,402.55 238.24,402.59 239.62,402.64 240.99,402.69 242.37,402.74 243.74,402.80 245.11,402.86 246.48,402.93 247.84,403.00 249.20,403.08 250.56,403.16 251.92,403.25 253.27,403.35 254.62,403.45 255.97,403.56 257.32,403.67 258.66,403.79 260.00,403.92 260.67,403.99" fill="none" stroke="#0000ff" stroke-width="3.8" stroke-linejoin="round" stroke-linecap="round"/>
<polygon points="50.50,381.00 53.00,376.25 48.00,376.25" fill="#008000"/>
<polygon points="49.00,377.00 51.50,372.25 46.50,372.25" fill="#008000"/>
<polygon points="51.50,377.50 54.00,372.75 49.00,372.75" fill="#008000"/>
<polygon points="48.00,373.50 50.50,368.75 45.50,368.75" fill="#008000"/>
<polygon points="52.50,373.50 55.00,368.75 50.00,368.75" fill="#008000"/>
<polygon points="53.50,365.50 56.00,360.75 51.00,360.75" fill="#008000"/>
<polygon points="55.00,365.00 57.50,360.25 52.50,360.25" fill="#008000"/>
<polygon points="42.00,368.50 44.50,363.75 39.50,363.75" fill="#008000"/>
<polyline points="59.16,365.21 59.83,366.61 60.53,367.97 61.26,369.29 62.02,370.58 62.80,371.82 63.61,373.04 64.45,374.21 65.31,375.35 66.20,376.46 67.11,377.53 68.04,378.57 68.99,379.57 69.97,380.55 70.97,381.49 71.99,382.40 73.03,383.29 74.09,384.14 75.17,384.96 76.27,385.76 77.39,386.53 78.52,387.27 79.67,387.99 80.83,388.68 82.01,389.35 83.21,390.00 84.42,390.62 85.64,391.22 86.88,391.79 88.12,392.35 89.38,392.88 90.65,393.40 91.93,393.90 93.22,394.37 94.52,394.83 95.83,395.28 97.14,395.70 98.47,396.12 99.80,396.51 101.13,396.89 102.47,397.26 103.82,397.62 105.16,397.96 106.52,398.29 107.87,398.61 109.23,398.92 110.59,399.22 111.96,399.50 113.33,399.78 114.70,400.05 116.07,400.30 117.45,400.55 118.83,400.79 120.21,401.01 121.59,401.23 122.98,401.44 124.37,401.64 125.76,401.83 127.15,402.01 128.54,402.18 129.94,402.35 131.34,402.50 132.74,402.65 134.15,402.79 135.55,402.93 136.96,403.05 138.37,403.17 139.78,403.28 141.19,403.39 142.61,403.48 144.02,403.58 145.44,403.66 146.86,403.74 148.28,403.81 149.70,403.88 151.12,403.94 152.54,404.00 153.97,404.05 155.39,404.10 156.82,404.14 158.25,404.17 159.68,404.21 161.10,404.23 162.53,404.26 163.96,404.28 165.40,404.29 166.83,404.30 168.26,404.31 169.69,404.32 171.12,404.32 172.56,404.32 173.99,404.32 175.42,404.32 176.85,404.31 178.29,404.30 179.72,404.29 181.15,404.27 182.59,404.26 184.02,404.24 185.45,404.23 186.88,404.21 188.32,404.19 189.75,404.17 191.18,404.15 192.61,404.13 194.04,404.11 195.46,404.09 196.89,404.07 198.32,404.05 199.74,404.03 201.17,404.01 202.59,403.99 204.02,403.98 205.44,403.96 206.86,403.95 208.28,403.94 209.69,403.93 211.11,403.92 212.53,403.92 213.94,403.91 215.35,403.91 216.76,403.92 218.17,403.92 219.57,403.93 220.98,403.95 222.38,403.96 223.78,403.98 225.18,404.01 226.58,404.03 227.97,404.07 229.36,404.10 230.75,404.14 232.14,404.19 233.53,404.24 234.91,404.30 236.29,404.36 237.66,404.43 239.04,404.50 240.41,404.58 241.78,404.67 243.15,404.76 244.51,404.86 245.87,404.96 247.23,405.07 248.58,405.19 249.93,405.32 251.28,405.45 252.62,405.59 253.96,405.74 255.30,405.90 256.64,406.06 257.97,406.24 259.29,406.42 260.62,406.61 260.62,406.61" fill="none" stroke="#008000" stroke-width="5.0" stroke-linejoin="round" stroke-linecap="round"/>
<polyline points="41.00,371.00 41.47,369.98 42.13,368.50 42.89,366.89 43.65,365.50 44.73,364.20 46.18,363.45 47.52,363.69 48.64,364.47 49.83,365.51 51.00,366.50 52.17,367.42 53.36,368.35 54.48,369.18 55.82,370.00 57.27,370.61 58.51,370.17 59.53,369.00 60.53,367.61 61.54,366.33 62.56,365.00 63.50,364.00 65.50,363.50 66.44,364.35 67.46,365.72 68.35,367.04 69.09,368.27 69.85,369.61 70.62,370.91 71.43,372.15 72.31,373.42 73.18,374.57 74.00,375.50 75.22,376.61 76.50,377.00 77.76,376.60 79.19,375.73 80.59,374.81 81.98,373.82 83.43,372.77 84.60,371.89 85.00,371.60" fill="none" stroke="#940090" stroke-width="5.4" stroke-linejoin="round" stroke-linecap="round"/>
<polyline points="76.19,376.72 77.55,376.14 78.88,375.53 80.19,374.90 81.48,374.24 82.74,373.56 83.98,372.86 85.19,372.13 86.39,371.38 87.56,370.60 88.71,369.81 89.84,368.99 90.94,368.15 92.03,367.28 93.10,366.40 94.15,365.49 95.17,364.56 96.18,363.61 97.18,362.64 98.15,361.65 99.10,360.64 100.04,359.61 100.97,358.56 101.87,357.49 102.76,356.40 103.63,355.29 104.49,354.17 105.33,353.02 106.16,351.86 106.98,350.67 107.78,349.48 108.58,348.27 109.37,347.06 110.16,345.85 110.96,344.65 111.76,343.46 112.57,342.29 113.39,341.13 114.23,340.01 115.10,338.91 115.99,337.86 116.90,336.84 117.85,335.88 118.83,334.96 119.84,334.09 120.88,333.28 121.95,332.52 123.06,331.82 124.20,331.19 125.37,330.61 126.57,330.11 127.81,329.66 129.08,329.29 130.37,328.97 131.69,328.70 133.02,328.49 134.38,328.33 135.75,328.21 137.14,328.13 138.53,328.09 139.93,328.09 141.34,328.11 142.74,328.16 144.15,328.24 145.56,328.34 146.97,328.47 148.37,328.61 149.78,328.78 151.19,328.96 152.60,329.16 154.00,329.38 155.41,329.61 156.82,329.86 158.23,330.12 159.63,330.39 161.04,330.67 162.45,330.96 163.85,331.26 165.26,331.57 166.66,331.88 168.07,332.20 169.47,332.51 170.87,332.83 172.27,333.16 173.67,333.48 175.07,333.79 176.47,334.11 177.86,334.42 179.26,334.73 180.65,335.02 182.05,335.31 183.44,335.60 184.83,335.88 186.22,336.15 187.60,336.41 188.99,336.67 190.38,336.92 191.76,337.17 193.14,337.41 194.53,337.64 195.91,337.87 197.29,338.10 198.67,338.32 200.05,338.54 201.43,338.75 202.81,338.96 204.19,339.17 205.57,339.37 206.95,339.58 208.32,339.77 209.70,339.97 211.08,340.17 212.46,340.36 213.83,340.55 215.21,340.74 216.59,340.93 217.96,341.12 219.34,341.31 220.72,341.49 222.10,341.68 223.48,341.87 224.86,342.06 226.24,342.25 227.62,342.44 229.00,342.63 230.38,342.82 231.76,343.02 233.15,343.22 234.53,343.42 235.91,343.62 237.30,343.83 238.69,344.04 240.08,344.25 241.46,344.46 242.85,344.68 244.25,344.91 245.64,345.14 247.03,345.37 248.43,345.61 249.83,345.85 251.23,346.10 252.63,346.36 254.03,346.62 255.43,346.89 256.84,347.16 258.25,347.44 259.66,347.73 261.07,348.02 261.07,348.02" fill="none" stroke="#940090" stroke-width="5.4" stroke-linejoin="round" stroke-linecap="round"/>
<polyline points="41.00,376.00 41.20,375.01 41.32,374.34" fill="none" stroke="#858700" stroke-width="6.0" stroke-linejoin="round" stroke-linecap="round"/>
<polyline points="41.32,374.34 41.62,372.78 41.97,371.14 42.14,370.35" fill="none" stroke="#858700" stroke-width="6.25" stroke-linejoin="round" stroke-linecap="round"/>
<polyline points="42.14,370.35 42.50,369.00 43.01,367.43 43.01,367.43" fill="none" stroke="#858700" stroke-width="6.5" stroke-linejoin="round" stroke-linecap="round"/>
<polyline points="43.01,367.43 43.55,366.05 44.16,364.94 44.16,364.94" fill="none" stroke="#858700" stroke-width="6.75" stroke-linejoin="round" stroke-linecap="round"/>
<polyline points="44.16,364.94 45.16,363.90 46.66,363.35 48.02,363.76 49.14,364.69 50.33,365.87 51.50,367.00 52.67,368.07 52.67,368.07" fill="none" stroke="#858700" stroke-width="7.0" stroke-linejoin="round" stroke-linecap="round"/>
<polyline points="52.67,368.07 53.86,369.17 54.98,370.13 54.98,370.13" fill="none" stroke="#858700" stroke-width="6.75" stroke-linejoin="round" stroke-linecap="round"/>
<polyline points="54.98,370.13 56.33,371.03 57.09,371.44" fill="none" stroke="#858700" stroke-width="6.5" stroke-linejoin="round" stroke-linecap="round"/>
<polyline points="57.09,371.44 57.81,371.62" fill="none" stroke="#858700" stroke-width="6.25" stroke-linejoin="round" stroke-linecap="round"/>
<polyline points="57.81,371.62 58.95,371.19 59.37,370.72" fill="none" stroke="#858700" stroke-width="6.0" stroke-linejoin="round" stroke-linecap="round"/>
<polyline points="59.37,370.72 60.19,369.44 61.00,368.00 61.00,368.00" fill="none" stroke="#858700" stroke-width="5.75" stroke-linejoin="round" stroke-linecap="round"/>
<polyline points="61.00,368.00 61.71,366.64 62.43,365.12 63.14,363.65 63.92,362.28 63.92,362.28" fill="none" stroke="#858700" stroke-width="5.5" stroke-linejoin="round" stroke-linecap="round"/>
<polyline points="63.92,362.28 64.75,360.88 65.58,359.81 66.80,359.39 68.50,360.50 69.43,361.45 70.45,362.70 71.49,363.95 72.59,365.10 73.81,366.31 74.97,367.24 76.37,367.56 78.00,366.50 79.03,365.58 80.19,364.39 81.17,363.34 81.50,363.00" fill="none" stroke="#858700" stroke-width="5.25" stroke-linejoin="round" stroke-linecap="round"/>
<polyline points="76.15,368.17 77.04,367.15 77.91,366.12 78.78,365.07 79.62,364.00 80.45,362.92 81.27,361.82 82.07,360.71 82.86,359.58 83.64,358.44 84.40,357.29 85.15,356.12 85.88,354.94 86.61,353.75 87.32,352.55 88.01,351.33 88.70,350.11 89.37,348.88 90.03,347.64 90.68,346.39 91.32,345.13 91.95,343.86 92.56,342.59 93.17,341.31 93.76,340.02 94.34,338.73 94.91,337.44 95.48,336.14 96.03,334.83 96.57,333.52 97.10,332.21 97.63,330.90 98.14,329.59 98.65,328.27 99.14,326.95 99.63,325.64 100.11,324.32 100.58,323.00 101.05,321.69 101.50,320.37 101.95,319.05 102.39,317.74 102.83,316.42 103.26,315.10 103.68,313.78 104.10,312.45 104.51,311.13 104.92,309.80 105.32,308.47 105.72,307.13 106.12,305.79 106.51,304.45 106.90,303.11 107.28,301.76 107.66,300.41 108.04,299.05 108.42,297.68 108.80,296.31 109.17,294.94 109.55,293.56 109.92,292.17 110.29,290.78 110.66,289.38 111.04,287.97 111.41,286.56 111.80,285.15 112.19,283.74 112.59,282.34 113.01,280.94 113.44,279.55 113.89,278.18 114.36,276.81 114.85,275.47 115.37,274.15 115.92,272.85 116.50,271.58 117.11,270.33 117.76,269.12 118.44,267.94 119.17,266.79 119.94,265.69 120.76,264.62 121.62,263.61 122.53,262.63 123.48,261.70 124.47,260.82 125.50,259.98 126.56,259.18 127.66,258.44 128.79,257.74 129.96,257.09 131.15,256.50 132.36,255.95 133.60,255.45 134.86,255.00 136.15,254.60 137.45,254.25 138.76,253.96 140.09,253.72 141.44,253.54 142.79,253.40 144.15,253.31 145.53,253.27 146.91,253.28 148.30,253.32 149.70,253.40 151.11,253.52 152.52,253.68 153.94,253.86 155.36,254.07 156.79,254.31 158.22,254.57 159.65,254.86 161.08,255.16 162.52,255.48 163.95,255.81 165.39,256.16 166.82,256.51 168.25,256.87 169.68,257.23 171.10,257.60 172.53,257.96 173.94,258.32 175.35,258.68 176.76,259.03 178.16,259.38 179.56,259.73 180.95,260.07 182.34,260.41 183.73,260.74 185.11,261.08 186.49,261.40 187.86,261.73 189.24,262.05 190.60,262.37 191.97,262.69 193.33,263.00 194.70,263.32 196.05,263.62 197.41,263.93 198.77,264.24 200.12,264.54 201.47,264.84 202.82,265.13 204.17,265.43 205.52,265.72 206.86,266.01 208.21,266.30 209.55,266.59 210.90,266.87 212.24,267.16 213.59,267.44 214.93,267.72 216.28,268.00 217.62,268.28 218.97,268.56 220.32,268.84 221.67,269.11 223.02,269.38 224.37,269.66 225.72,269.93 227.07,270.20 228.43,270.48 229.79,270.75 231.15,271.02 232.51,271.29 233.87,271.56 235.24,271.83 236.61,272.10 237.99,272.37 239.36,272.64 240.75,272.91 242.13,273.18 243.52,273.45 244.91,273.72 246.31,273.99 247.71,274.26 249.11,274.54 250.52,274.81 251.94,275.08 253.35,275.36 254.78,275.64 256.21,275.91 257.65,276.19 259.09,276.47 260.53,276.75 261.26,276.89" fill="none" stroke="#858700" stroke-width="5.2" stroke-linejoin="round" stroke-linecap="round"/>
</g>
<clipPath id="clipc"><rect x="310.30" y="14.20" width="225.80" height="174.40"/></clipPath>
<g clip-path="url(#clipc)">
<rect x="320.70" y="60.10" width="3.80" height="3.80" fill="#000000"/>
<rect x="321.30" y="56.40" width="3.80" height="3.80" fill="#000000"/>
<rect x="322.30" y="52.10" width="3.80" height="3.80" fill="#000000"/>
<rect x="323.30" y="48.10" width="3.80" height="3.80" fill="#000000"/>
<rect x="324.10" y="44.40" width="3.80" height="3.80" fill="#000000"/>
<rect x="325.10" y="41.10" width="3.80" height="3.80" fill="#000000"/>
<rect x="326.30" y="38.10" width="3.80" height="3.80" fill="#000000"/>
<rect x="327.70" y="36.10" width="3.80" height="3.80" fill="#000000"/>
<rect x="329.10" y="36.40" width="3.80" height="3.80" fill="#000000"/>
<rect x="330.10" y="38.90" width="3.80" height="3.80" fill="#000000"/>
<rect x="330.60" y="41.60" width="3.80" height="3.80" fill="#000000"/>
<rect x="320.60" y="57.60" width="3.80" height="3.80" fill="#000000"/>
<rect x="330.40" y="52.80" width="3.80" height="3.80" fill="#000000"/>
<rect x="331.70" y="77.00" width="3.80" height="3.80" fill="#000000"/>
<rect x="333.40" y="136.60" width="3.80" height="3.80" fill="#000000"/>
<rect x="333.80" y="147.60" width="3.80" height="3.80" fill="#000000"/>
<rect x="334.60" y="154.10" width="3.80" height="3.80" fill="#000000"/>
<polyline points="336.80,158.00 336.91,159.12 337.06,160.75 337.25,162.50 337.50,164.00 337.90,165.56 338.40,166.89 339.00,168.00 340.06,169.17 341.50,170.00 341.50,170.00" fill="none" stroke="#000000" stroke-width="4.75" stroke-linejoin="round" stroke-linecap="round"/>
<polyline points="341.50,170.00 342.80,170.48 344.31,170.89 346.00,171.30 347.35,171.63 347.35,171.63" fill="none" stroke="#000000" stroke-width="4.5" stroke-linejoin="round" stroke-linecap="round"/>
<polyline points="347.35,171.63 348.78,171.96 350.32,172.31 352.00,172.70 353.25,172.99 354.51,173.27 355.16,173.42" fill="none" stroke="#000000" stroke-width="4.25" stroke-linejoin="round" stroke-linecap="round"/>
<polyline points="355.16,173.42 356.56,173.74 358.15,174.13 360.00,174.60 361.19,174.92 362.54,175.29 364.01,175.70 365.55,176.13 367.12,176.58 368.69,177.02 370.20,177.44 371.62,177.84 372.90,178.20 374.00,178.50 375.85,179.03 376.94,179.35 378.05,179.63 380.00,180.00 381.04,180.19 382.15,180.40 383.34,180.62 384.61,180.84 385.96,181.08 387.40,181.31 388.93,181.55 390.54,181.78 392.25,182.00 394.06,182.20 395.58,182.36 396.75,182.47 397.96,182.58 399.20,182.69 400.47,182.80 401.78,182.91 403.12,183.01 404.49,183.12 405.89,183.22 407.33,183.32 408.80,183.41 410.30,183.51 411.84,183.60 413.40,183.68 415.00,183.77 416.64,183.85 418.30,183.93 420.00,184.00 421.18,184.05 422.33,184.10 423.45,184.14 424.55,184.18 425.64,184.22 426.72,184.26 427.80,184.30 428.89,184.34 430.00,184.37 431.12,184.40 432.27,184.44 433.46,184.47 434.68,184.50 435.95,184.52 437.28,184.55 438.67,184.58 440.12,184.60 441.65,184.63 443.26,184.66 444.96,184.68 446.75,184.70 448.65,184.73 450.65,184.75 452.76,184.78 455.00,184.80 456.03,184.81 457.12,184.82 458.25,184.83 459.43,184.84 460.66,184.85 461.92,184.86 463.23,184.87 464.57,184.88 465.95,184.89 467.37,184.90 468.81,184.91 470.29,184.92 471.79,184.93 473.32,184.94 474.88,184.94 476.46,184.95 478.05,184.96 479.67,184.97 481.30,184.98 482.94,184.99 484.60,184.99 486.26,185.00 487.94,185.01 489.61,185.02 491.30,185.02 492.98,185.03 494.67,185.04 496.35,185.05 498.03,185.05 499.70,185.06 501.36,185.07 503.01,185.07 504.65,185.08 506.28,185.09 507.89,185.09 509.48,185.10 511.05,185.11 512.59,185.11 514.12,185.12 515.61,185.12 517.08,185.13 518.51,185.13 519.92,185.14 521.29,185.14 522.62,185.15 523.91,185.15 525.17,185.16 526.37,185.16 527.54,185.17 528.66,185.17 529.73,185.18 530.74,185.18 531.71,185.18 532.62,185.19 533.47,185.19 534.27,185.20 535.00,185.20 535.00,185.20" fill="none" stroke="#000000" stroke-width="4.0" stroke-linejoin="round" stroke-linecap="round"/>
<circle cx="322.00" cy="75.30" r="2.40" fill="#ff0000"/>
<circle cx="323.00" cy="72.00" r="2.40" fill="#ff0000"/>
<circle cx="324.00" cy="69.30" r="2.40" fill="#ff0000"/>
<circle cx="325.30" cy="66.00" r="2.40" fill="#ff0000"/>
<circle cx="326.70" cy="63.30" r="2.40" fill="#ff0000"/>
<circle cx="328.00" cy="62.00" r="2.40" fill="#ff0000"/>
<circle cx="329.00" cy="64.00" r="2.40" fill="#ff0000"/>
<circle cx="330.00" cy="66.70" r="2.40" fill="#ff0000"/>
<circle cx="332.00" cy="68.70" r="2.40" fill="#ff0000"/>
<circle cx="333.70" cy="64.70" r="2.40" fill="#ff0000"/>
<circle cx="334.30" cy="59.30" r="2.40" fill="#ff0000"/>
<circle cx="335.00" cy="55.30" r="2.40" fill="#ff0000"/>
<circle cx="335.70" cy="51.00" r="2.40" fill="#ff0000"/>
<circle cx="336.00" cy="47.00" r="2.40" fill="#ff0000"/>
<circle cx="337.30" cy="42.30" r="2.40" fill="#ff0000"/>
<circle cx="338.70" cy="38.50" r="2.40" fill="#ff0000"/>
<circle cx="340.00" cy="41.00" r="2.40" fill="#ff0000"/>
<circle cx="340.70" cy="48.70" r="2.40" fill="#ff0000"/>
<circle cx="341.30" cy="68.00" r="2.40" fill="#ff0000"/>
<circle cx="342.00" cy="93.10" r="2.40" fill="#ff0000"/>
<circle cx="343.30" cy="115.30" r="2.40" fill="#ff0000"/>
<circle cx="344.50" cy="133.00" r="2.40" fill="#ff0000"/>
<circle cx="345.00" cy="146.00" r="2.40" fill="#ff0000"/>
<polyline points="345.50,158.00 345.58,159.26 345.92,161.00 346.80,162.21 347.87,163.03 349.16,163.84 350.52,164.61 351.80,165.30 353.11,165.92 354.40,166.42 355.71,166.93 357.10,167.60 358.21,168.31 359.30,169.14 360.45,170.02 361.76,170.86 363.30,171.60 364.54,172.03 365.95,172.43 367.48,172.80 369.06,173.15 370.61,173.48 372.09,173.79 373.41,174.07 374.91,174.41 376.20,174.71 377.30,174.95 378.85,175.27 380.51,175.61 381.58,175.84 382.73,176.10 383.96,176.37 385.27,176.67 386.67,176.97 388.15,177.28 389.72,177.59 391.39,177.90 393.14,178.21 395.00,178.50 396.16,178.67 397.35,178.85 398.58,179.03 399.83,179.21 401.12,179.39 402.44,179.57 403.80,179.75 405.19,179.93 406.61,180.11 408.06,180.28 409.55,180.46 411.07,180.63 412.62,180.80 414.20,180.96 415.82,181.12 417.47,181.28 419.15,181.43 420.60,181.55 421.76,181.65 422.89,181.75 424.00,181.84 425.10,181.94 426.18,182.03 427.26,182.12 428.35,182.21 429.44,182.30 430.56,182.39 431.69,182.47 432.86,182.56 434.06,182.64 435.31,182.72 436.61,182.80 437.97,182.87 439.39,182.95 440.88,183.02 442.45,183.09 444.10,183.16 445.84,183.23 447.69,183.29 449.63,183.35 451.69,183.41 453.87,183.47 455.51,183.51 456.57,183.54 457.68,183.56 458.84,183.58 460.04,183.61 461.28,183.63 462.57,183.65 463.90,183.67 465.26,183.69 466.66,183.71 468.09,183.73 469.55,183.75 471.04,183.77 472.56,183.79 474.10,183.81 475.66,183.83 477.25,183.84 478.86,183.86 480.48,183.88 482.12,183.89 483.77,183.91 485.43,183.92 487.10,183.94 488.77,183.96 490.46,183.97 492.14,183.98 493.82,184.00 495.51,184.01 497.19,184.03 498.86,184.04 500.53,184.05 502.19,184.06 503.83,184.08 505.47,184.09 507.08,184.10 508.68,184.11 510.26,184.12 511.82,184.13 513.36,184.14 514.87,184.15 516.35,184.16 517.80,184.17 519.22,184.18 520.61,184.19 521.96,184.20 523.27,184.21 524.54,184.22 525.78,184.23 526.96,184.24 528.10,184.24 529.20,184.25 530.24,184.26 531.23,184.27 532.17,184.27 533.05,184.28 533.88,184.29 534.64,184.30 535.00,184.30" fill="none" stroke="#ff0000" stroke-width="4.2" stroke-linejoin="round" stroke-linecap="round"/>
<polygon points="322.30,124.20 324.60,128.57 320.00,128.57" fill="#0000ff"/>
<polygon points="323.20,122.20 325.50,126.57 320.90,126.57" fill="#0000ff"/>
<polygon points="324.70,120.40 327.00,124.77 322.40,124.77" fill="#0000ff"/>
<polygon points="326.50,121.20 328.80,125.57 324.20,125.57" fill="#0000ff"/>
<polygon points="328.00,122.40 330.30,126.77 325.70,126.77" fill="#0000ff"/>
<polygon points="330.00,122.70 332.30,127.07 327.70,127.07" fill="#0000ff"/>
<polygon points="332.00,122.70 334.30,127.07 329.70,127.07" fill="#0000ff"/>
<polygon points="334.70,122.40 337.00,126.77 332.40,126.77" fill="#0000ff"/>
<polygon points="337.30,107.00 339.60,111.37 335.00,111.37" fill="#0000ff"/>
<polygon points="338.00,113.70 340.30,118.07 335.70,118.07" fill="#0000ff"/>
<polygon points="338.50,119.70 340.80,124.07 336.20,124.07" fill="#0000ff"/>
<polygon points="339.30,127.70 341.60,132.07 337.00,132.07" fill="#0000ff"/>
<polygon points="340.00,134.70 342.30,139.07 337.70,139.07" fill="#0000ff"/>
<polygon points="340.50,141.70 342.80,146.07 338.20,146.07" fill="#0000ff"/>
<polyline points="341.30,152.00 341.47,152.99 341.70,154.42 341.98,156.04 342.12,156.86" fill="none" stroke="#0000ff" stroke-width="5.0" stroke-linejoin="round" stroke-linecap="round"/>
<polyline points="342.12,156.86 342.38,158.37 342.65,159.91 342.86,161.47 343.19,162.84 343.86,164.07 344.75,165.15 345.82,166.14 347.00,167.00 348.35,167.71 349.09,168.01" fill="none" stroke="#0000ff" stroke-width="5.25" stroke-linejoin="round" stroke-linecap="round"/>
<polyline points="349.09,168.01 350.60,168.55 352.00,169.00 353.43,169.38 354.90,169.69 356.53,170.17 357.74,170.56 359.10,171.02 360.56,171.51 362.07,172.03 362.07,172.03" fill="none" stroke="#0000ff" stroke-width="5.0" stroke-linejoin="round" stroke-linecap="round"/>
<polyline points="362.07,172.03 363.57,172.53 365.00,173.00 366.41,173.46 367.87,173.93 369.33,174.40 370.76,174.85 372.13,175.27 373.41,175.64 373.41,175.64" fill="none" stroke="#0000ff" stroke-width="4.75" stroke-linejoin="round" stroke-linecap="round"/>
<polyline points="373.41,175.64 374.87,176.02 376.29,176.35 377.59,176.59 379.08,176.84 380.57,177.10 381.13,177.20" fill="none" stroke="#0000ff" stroke-width="4.5" stroke-linejoin="round" stroke-linecap="round"/>
<polyline points="381.13,177.20 382.27,177.39 383.48,177.59 384.80,177.80 386.30,178.04 388.01,178.30 390.00,178.60 391.06,178.77 392.11,178.95 393.17,179.15 394.26,179.36 395.38,179.57 395.96,179.68" fill="none" stroke="#0000ff" stroke-width="4.25" stroke-linejoin="round" stroke-linecap="round"/>
<polyline points="395.96,179.68 397.18,179.91 398.47,180.13 399.86,180.36 401.37,180.58 403.01,180.80 404.79,181.01 406.74,181.22 408.86,181.41 410.51,181.54 411.54,181.62 412.59,181.69 413.65,181.77 414.73,181.84 415.83,181.92 416.95,181.99 418.09,182.06 419.26,182.13 420.44,182.20 421.65,182.27 422.88,182.34 424.14,182.41 425.42,182.48 426.73,182.55 428.07,182.61 429.44,182.68 430.83,182.74 432.26,182.80 433.72,182.87 435.21,182.93 436.74,182.99 438.30,183.05 439.89,183.11 441.52,183.17 443.19,183.23 444.90,183.29 446.64,183.35 448.43,183.40 450.25,183.46 452.12,183.52 454.03,183.57 455.55,183.62 456.70,183.65 457.88,183.68 459.11,183.71 460.37,183.74 461.68,183.77 463.02,183.80 464.39,183.83 465.80,183.86 467.23,183.89 468.70,183.92 470.19,183.95 471.71,183.98 473.25,184.01 474.81,184.04 476.39,184.07 477.98,184.10 479.59,184.13 481.22,184.16 482.86,184.18 484.50,184.21 486.16,184.24 487.82,184.27 489.49,184.30 491.15,184.32 492.82,184.35 494.49,184.38 496.15,184.40 497.81,184.43 499.46,184.46 501.11,184.48 502.74,184.51 504.36,184.53 505.97,184.56 507.55,184.58 509.13,184.61 510.68,184.63 512.21,184.65 513.71,184.67 515.19,184.70 516.65,184.72 518.07,184.74 519.46,184.76 520.82,184.78 522.15,184.80 523.43,184.82 524.68,184.84 525.89,184.86 527.06,184.87 528.18,184.89 529.26,184.91 530.28,184.92 531.26,184.94 532.19,184.95 533.06,184.97 533.88,184.98 534.64,184.99 535.00,185.00" fill="none" stroke="#0000ff" stroke-width="4.0" stroke-linejoin="round" stroke-linecap="round"/>
<polygon points="322.30,111.30 324.60,106.93 320.00,106.93" fill="#008000"/>
<polygon points="323.00,112.80 325.30,108.43 320.70,108.43" fill="#008000"/>
<polygon points="330.00,113.30 332.30,108.93 327.70,108.93" fill="#008000"/>
<polygon points="331.50,116.30 333.80,111.93 329.20,111.93" fill="#008000"/>
<polygon points="333.00,118.30 335.30,113.93 330.70,113.93" fill="#008000"/>
<polygon points="334.50,115.30 336.80,110.93 332.20,110.93" fill="#008000"/>
<polygon points="336.00,113.80 338.30,109.43 333.70,109.43" fill="#008000"/>
<polygon points="337.50,114.80 339.80,110.43 335.20,110.43" fill="#008000"/>
<polygon points="338.50,119.30 340.80,114.93 336.20,114.93" fill="#008000"/>
<polygon points="339.50,126.30 341.80,121.93 337.20,121.93" fill="#008000"/>
<polygon points="340.30,133.30 342.60,128.93 338.00,128.93" fill="#008000"/>
<polygon points="341.00,139.30 343.30,134.93 338.70,134.93" fill="#008000"/>
<polygon points="341.50,145.30 343.80,140.93 339.20,140.93" fill="#008000"/>
<polyline points="342.00,148.00 342.15,148.49" fill="none" stroke="#008000" stroke-width="4.5" stroke-linejoin="round" stroke-linecap="round"/>
<polyline points="342.15,148.49 342.59,149.97 343.17,151.70 343.17,151.70" fill="none" stroke="#008000" stroke-width="4.75" stroke-linejoin="round" stroke-linecap="round"/>
<polyline points="343.17,151.70 343.77,153.16 344.32,154.54 345.00,155.87 346.00,157.00 347.10,157.66 348.43,158.16 349.87,158.60 351.31,159.05 352.66,159.56 353.96,160.06 355.26,160.56 356.60,161.13 358.00,161.80 359.18,162.47 360.39,163.22 361.63,164.02 362.92,164.84 364.28,165.63 365.63,166.31 367.00,166.94 368.45,167.57 369.93,168.19 371.39,168.78 371.39,168.78" fill="none" stroke="#008000" stroke-width="5.0" stroke-linejoin="round" stroke-linecap="round"/>
<polyline points="371.39,168.78 372.76,169.32 374.00,169.80 375.46,170.36 376.65,170.79 377.81,171.17 379.17,171.57 379.17,171.57" fill="none" stroke="#008000" stroke-width="4.75" stroke-linejoin="round" stroke-linecap="round"/>
<polyline points="379.17,171.57 380.58,171.96 381.79,172.27 383.07,172.59 384.44,172.92 385.90,173.26 387.45,173.62 389.12,174.00 390.60,174.34 391.79,174.63 391.79,174.63" fill="none" stroke="#008000" stroke-width="4.5" stroke-linejoin="round" stroke-linecap="round"/>
<polyline points="391.79,174.63 393.01,174.94 394.26,175.26 395.55,175.59 396.91,175.93 398.33,176.26 399.84,176.59 401.45,176.91 403.16,177.21 405.00,177.50 406.17,177.67 407.41,177.83 408.70,177.99 410.03,178.15 411.41,178.31 412.83,178.46 414.28,178.62 414.28,178.62" fill="none" stroke="#008000" stroke-width="4.25" stroke-linejoin="round" stroke-linecap="round"/>
<polyline points="414.28,178.62 415.75,178.76 417.25,178.91 418.76,179.05 420.28,179.19 421.80,179.33 423.33,179.46 424.84,179.59 426.34,179.71 427.82,179.83 429.28,179.95 430.69,180.05 431.96,180.15 433.09,180.25 434.12,180.33 435.08,180.41 435.99,180.49 436.90,180.56 437.83,180.63 438.81,180.69 439.87,180.75 441.04,180.82 442.36,180.88 443.85,180.94 445.55,181.01 447.48,181.07 449.68,181.14 452.17,181.22 455.00,181.30 455.95,181.33 456.96,181.35 458.02,181.38 459.13,181.41 460.29,181.44 461.50,181.46 462.76,181.49 464.05,181.52 465.39,181.55 466.77,181.58 468.18,181.61 469.63,181.65 471.11,181.68 472.63,181.71 474.16,181.74 475.73,181.77 477.32,181.81 478.93,181.84 480.56,181.87 482.20,181.90 483.86,181.94 485.53,181.97 487.22,182.00 488.91,182.03 490.61,182.07 492.31,182.10 494.01,182.13 495.71,182.17 497.41,182.20 499.11,182.23 500.79,182.26 502.47,182.29 504.14,182.32 505.79,182.35 507.43,182.39 509.05,182.42 510.65,182.44 512.22,182.47 513.77,182.50 515.30,182.53 516.79,182.56 518.26,182.59 519.69,182.61 521.09,182.64 522.44,182.66 523.76,182.69 525.04,182.71 526.27,182.73 527.46,182.76 528.59,182.78 529.68,182.80 530.71,182.82 531.69,182.84 532.61,182.85 533.47,182.87 534.27,182.89 535.00,182.90 535.00,182.90" fill="none" stroke="#008000" stroke-width="4.0" stroke-linejoin="round" stroke-linecap="round"/>
<polygon points="322.30,107.70 325.10,110.50 322.30,113.30 319.50,110.50" fill="#940090"/>
<polygon points="323.50,105.70 326.30,108.50 323.50,111.30 320.70,108.50" fill="#940090"/>
<polygon points="325.00,103.70 327.80,106.50 325.00,109.30 322.20,106.50" fill="#940090"/>
<polygon points="327.80,102.80 330.60,105.60 327.80,108.40 325.00,105.60" fill="#940090"/>
<polygon points="329.50,104.70 332.30,107.50 329.50,110.30 326.70,107.50" fill="#940090"/>
<polygon points="331.30,106.20 334.10,109.00 331.30,111.80 328.50,109.00" fill="#940090"/>
<polygon points="332.50,103.70 335.30,106.50 332.50,109.30 329.70,106.50" fill="#940090"/>
<polygon points="334.40,101.00 337.20,103.80 334.40,106.60 331.60,103.80" fill="#940090"/>
<polygon points="335.50,98.20 338.30,101.00 335.50,103.80 332.70,101.00" fill="#940090"/>
<polygon points="336.70,96.50 339.50,99.30 336.70,102.10 333.90,99.30" fill="#940090"/>
<polygon points="338.00,97.70 340.80,100.50 338.00,103.30 335.20,100.50" fill="#940090"/>
<polygon points="338.90,99.20 341.70,102.00 338.90,104.80 336.10,102.00" fill="#940090"/>
<polygon points="339.50,102.20 342.30,105.00 339.50,107.80 336.70,105.00" fill="#940090"/>
<polygon points="340.20,104.50 343.00,107.30 340.20,110.10 337.40,107.30" fill="#940090"/>
<polygon points="341.00,109.20 343.80,112.00 341.00,114.80 338.20,112.00" fill="#940090"/>
<polygon points="342.00,115.20 344.80,118.00 342.00,120.80 339.20,118.00" fill="#940090"/>
<polygon points="342.50,121.20 345.30,124.00 342.50,126.80 339.70,124.00" fill="#940090"/>
<polygon points="343.00,125.20 345.80,128.00 343.00,130.80 340.20,128.00" fill="#940090"/>
<polygon points="344.00,130.20 346.80,133.00 344.00,135.80 341.20,133.00" fill="#940090"/>
<polygon points="344.50,135.20 347.30,138.00 344.50,140.80 341.70,138.00" fill="#940090"/>
<polygon points="322.30,111.70 325.10,114.50 322.30,117.30 319.50,114.50" fill="#940090"/>
<polyline points="344.34,141.29 345.50,142.04 346.77,142.60 348.10,143.03 349.46,143.40 350.80,143.78 352.09,144.24 353.31,144.84 354.44,145.56 355.52,146.39 356.55,147.29 357.56,148.24 358.56,149.22 359.56,150.20 360.59,151.16 361.63,152.08 362.70,152.98 363.79,153.86 364.91,154.70 366.04,155.52 367.19,156.32 368.36,157.09 369.54,157.83 370.74,158.56 371.96,159.26 373.19,159.95 374.43,160.61 375.68,161.25 376.94,161.88 378.22,162.49 379.50,163.08 380.79,163.65 382.08,164.21 383.38,164.76 384.69,165.29 386.00,165.81 387.31,166.32 388.63,166.81 389.94,167.30 391.27,167.77 392.59,168.23 393.92,168.68 395.25,169.11 396.58,169.54 397.92,169.95 399.26,170.36 400.60,170.75 401.95,171.13 403.29,171.50 404.64,171.86 406.00,172.21 407.35,172.55 408.71,172.88 410.07,173.20 411.43,173.51 412.80,173.81 414.16,174.10 415.53,174.39 416.90,174.66 418.28,174.92 419.65,175.18 421.03,175.43 422.41,175.67 423.79,175.90 425.18,176.12 426.56,176.33 427.95,176.54 429.34,176.74 430.73,176.93 432.12,177.12 433.52,177.29 434.91,177.46 436.31,177.63 437.71,177.78 439.11,177.93 440.51,178.07 441.91,178.21 443.31,178.34 444.72,178.47 446.13,178.59 447.53,178.70 448.94,178.81 450.35,178.91 451.76,179.01 453.17,179.10 454.58,179.19 456.00,179.27 457.41,179.35 458.82,179.42 460.24,179.49 461.65,179.55 463.07,179.61 464.49,179.67 465.90,179.72 467.32,179.77 468.74,179.82 470.16,179.86 471.58,179.90 473.00,179.94 474.41,179.97 475.83,180.00 477.25,180.03 478.67,180.06 480.09,180.09 481.51,180.11 482.93,180.13 484.35,180.15 485.77,180.16 487.18,180.18 488.60,180.20 490.02,180.21 491.44,180.22 492.85,180.23 494.27,180.24 495.68,180.26 497.10,180.27 498.51,180.28 499.93,180.29 501.34,180.30 502.75,180.31 504.16,180.32 505.57,180.33 506.98,180.34 508.39,180.35 509.80,180.37 511.20,180.38 512.61,180.40 514.01,180.42 515.42,180.44 516.82,180.46 518.22,180.48 519.62,180.51 521.01,180.54 522.41,180.57 523.80,180.60 525.19,180.63 526.59,180.67 527.97,180.71 529.36,180.76 530.75,180.81 532.13,180.86 533.51,180.91 534.89,180.97 536.27,181.03 536.96,181.07" fill="none" stroke="#940090" stroke-width="4.6" stroke-linejoin="round" stroke-linecap="round"/>
<polygon points="319.50,113.00 324.82,110.20 324.82,115.80" fill="#858700"/>
<polygon points="320.70,112.00 326.02,109.20 326.02,114.80" fill="#858700"/>
<polygon points="322.20,112.00 327.52,109.20 327.52,114.80" fill="#858700"/>
<polygon points="323.70,113.00 329.02,110.20 329.02,115.80" fill="#858700"/>
<polygon points="325.20,116.00 330.52,113.20 330.52,118.80" fill="#858700"/>
<polygon points="326.70,118.50 332.02,115.70 332.02,121.30" fill="#858700"/>
<polygon points="328.50,120.50 333.82,117.70 333.82,123.30" fill="#858700"/>
<polygon points="330.50,122.50 335.82,119.70 335.82,125.30" fill="#858700"/>
<polygon points="332.20,119.50 337.52,116.70 337.52,122.30" fill="#858700"/>
<polygon points="333.90,116.70 339.22,113.90 339.22,119.50" fill="#858700"/>
<polygon points="335.20,119.50 340.52,116.70 340.52,122.30" fill="#858700"/>
<polygon points="336.50,123.00 341.82,120.20 341.82,125.80" fill="#858700"/>
<polygon points="337.50,127.00 342.82,124.20 342.82,129.80" fill="#858700"/>
<polygon points="338.50,131.00 343.82,128.20 343.82,133.80" fill="#858700"/>
<polygon points="339.20,134.00 344.52,131.20 344.52,136.80" fill="#858700"/>
<polyline points="341.95,134.03 342.47,135.79 343.21,137.06 344.15,137.91 345.25,138.43 346.48,138.69 347.79,138.76 349.16,138.73 350.55,138.67 351.94,138.64 353.30,138.68 354.62,138.80 355.90,139.06 357.11,139.47 358.25,140.06 359.33,140.80 360.36,141.66 361.37,142.62 362.35,143.64 363.33,144.71 364.31,145.78 365.32,146.84 366.35,147.87 367.41,148.86 368.50,149.81 369.60,150.74 370.73,151.63 371.88,152.50 373.04,153.34 374.22,154.16 375.40,154.95 376.60,155.72 377.80,156.47 379.01,157.20 380.23,157.91 381.46,158.60 382.70,159.27 383.94,159.92 385.19,160.55 386.45,161.16 387.71,161.76 388.98,162.33 390.26,162.89 391.55,163.43 392.84,163.96 394.14,164.47 395.44,164.96 396.75,165.43 398.07,165.89 399.39,166.34 400.72,166.77 402.05,167.19 403.38,167.59 404.73,167.98 406.07,168.35 407.42,168.71 408.78,169.06 410.13,169.40 411.50,169.72 412.86,170.03 414.23,170.34 415.61,170.63 416.98,170.91 418.36,171.18 419.74,171.44 421.13,171.69 422.51,171.93 423.90,172.16 425.30,172.38 426.69,172.60 428.08,172.80 429.48,173.00 430.88,173.20 432.28,173.38 433.68,173.56 435.08,173.74 436.48,173.90 437.88,174.07 439.28,174.22 440.68,174.38 442.09,174.52 443.49,174.67 444.89,174.80 446.30,174.94 447.70,175.07 449.10,175.19 450.51,175.31 451.91,175.43 453.31,175.54 454.72,175.65 456.12,175.75 457.53,175.85 458.93,175.95 460.34,176.04 461.74,176.13 463.15,176.21 464.55,176.30 465.96,176.37 467.37,176.45 468.77,176.52 470.18,176.59 471.58,176.66 472.99,176.72 474.40,176.78 475.80,176.84 477.21,176.90 478.62,176.95 480.02,177.00 481.43,177.05 482.84,177.10 484.24,177.14 485.65,177.19 487.06,177.23 488.47,177.27 489.87,177.30 491.28,177.34 492.69,177.38 494.09,177.41 495.50,177.44 496.91,177.47 498.32,177.50 499.72,177.53 501.13,177.55 502.54,177.58 503.95,177.61 505.35,177.63 506.76,177.66 508.17,177.68 509.57,177.70 510.98,177.73 512.39,177.75 513.80,177.77 515.20,177.79 516.61,177.82 518.02,177.84 519.42,177.86 520.83,177.89 522.24,177.91 523.64,177.94 525.05,177.96 526.45,177.99 527.86,178.01 529.27,178.04 530.67,178.07 532.08,178.10 533.48,178.13 534.89,178.16 536.30,178.20 537.00,178.21" fill="none" stroke="#858700" stroke-width="5.2" stroke-linejoin="round" stroke-linecap="round"/>
</g>
<clipPath id="clipd"><rect x="306.60" y="237.30" width="232.60" height="179.10"/></clipPath>
<g clip-path="url(#clipd)">
<polyline points="318.60,363.50 320.00,362.00 320.74,360.78 321.60,359.28 322.50,358.00 323.92,356.66 325.30,356.00 326.80,356.43 327.69,357.95 327.69,357.95" fill="none" stroke="#000000" stroke-width="4.5" stroke-linejoin="round" stroke-linecap="round"/>
<polyline points="327.69,357.95 328.06,359.07 328.42,360.42 328.78,361.91 328.96,362.68" fill="none" stroke="#000000" stroke-width="4.75" stroke-linejoin="round" stroke-linecap="round"/>
<polyline points="328.96,362.68 329.32,364.24 329.66,365.65 329.97,367.02 330.29,368.44 330.61,369.89 330.92,371.33 331.22,372.71 331.50,374.00 331.82,375.55 332.09,377.02 332.35,378.40 332.64,379.73 333.00,381.00 333.51,382.54 334.06,384.00 334.71,385.34 335.50,386.50 336.60,387.55 337.86,388.38 338.55,388.75" fill="none" stroke="#000000" stroke-width="5.0" stroke-linejoin="round" stroke-linecap="round"/>
<polyline points="338.55,388.75 340.00,389.50 341.16,390.07 342.34,390.59 343.65,391.11 345.15,391.68 345.15,391.68" fill="none" stroke="#000000" stroke-width="4.75" stroke-linejoin="round" stroke-linecap="round"/>
<polyline points="345.15,391.68 346.55,392.21 347.76,392.65 349.07,393.13 350.46,393.63 351.88,394.12 353.30,394.61 354.69,395.08 356.00,395.50 357.38,395.93 357.38,395.93" fill="none" stroke="#000000" stroke-width="4.5" stroke-linejoin="round" stroke-linecap="round"/>
<polyline points="357.38,395.93 358.65,396.33 359.88,396.69 361.15,397.05 362.53,397.41 364.11,397.79 365.58,398.13 366.78,398.41 368.05,398.69 369.37,398.98 370.05,399.13" fill="none" stroke="#000000" stroke-width="4.25" stroke-linejoin="round" stroke-linecap="round"/>
<polyline points="370.05,399.13 371.45,399.43 372.91,399.72 374.41,400.02 375.95,400.31 377.54,400.59 379.17,400.87 380.61,401.10 381.72,401.29 382.75,401.48 383.71,401.67 384.66,401.86 385.62,402.04 386.64,402.22 387.76,402.40 389.01,402.58 390.44,402.75 392.07,402.92 393.95,403.09 396.12,403.26 398.62,403.42 400.47,403.53 401.45,403.58 402.46,403.63 403.50,403.69 404.57,403.74 405.67,403.79 406.80,403.85 407.96,403.90 409.15,403.95 410.37,404.00 411.61,404.06 412.88,404.11 414.17,404.16 415.48,404.21 416.82,404.27 418.18,404.32 419.56,404.37 420.96,404.42 422.38,404.47 423.82,404.52 425.27,404.57 426.74,404.62 428.23,404.67 429.74,404.72 431.25,404.76 432.78,404.81 434.33,404.86 435.88,404.90 437.45,404.95 439.02,404.99 440.61,405.04 442.20,405.08 443.80,405.12 445.40,405.16 447.01,405.21 448.63,405.25 450.25,405.28 451.87,405.32 453.50,405.36 455.12,405.40 456.75,405.43 458.38,405.47 460.00,405.50 461.26,405.52 462.56,405.55 463.89,405.57 465.25,405.60 466.64,405.62 468.06,405.64 469.51,405.66 470.99,405.69 472.48,405.71 474.00,405.73 475.54,405.75 477.10,405.77 478.67,405.79 480.26,405.81 481.86,405.82 483.48,405.84 485.10,405.86 486.74,405.88 488.38,405.89 490.02,405.91 491.67,405.93 493.32,405.94 494.97,405.96 496.62,405.97 498.26,405.99 499.90,406.00 501.53,406.01 503.16,406.03 504.77,406.04 506.37,406.05 507.96,406.07 509.53,406.08 511.09,406.09 512.63,406.10 514.14,406.11 515.64,406.13 517.11,406.14 518.56,406.15 519.98,406.16 521.37,406.17 522.73,406.18 524.06,406.19 525.35,406.20 526.61,406.21 527.83,406.22 529.02,406.22 530.16,406.23 531.26,406.24 532.32,406.25 533.33,406.26 534.29,406.27 535.21,406.27 536.07,406.28 536.88,406.29 537.64,406.30 538.00,406.30" fill="none" stroke="#000000" stroke-width="4.0" stroke-linejoin="round" stroke-linecap="round"/>
<polyline points="324.00,352.00 324.88,350.59 326.00,349.50 327.00,350.38 328.00,352.00 328.85,353.35 329.66,354.82 330.31,356.18 330.74,357.45 331.13,359.07 331.40,360.42 331.69,361.97 332.00,363.61 332.33,365.23 332.66,366.69 333.00,368.14 333.35,369.61 333.71,371.03 334.10,372.35 334.50,373.50 335.26,375.13 336.07,376.37 337.00,377.50 338.06,378.57 339.22,379.54 340.50,380.50 341.70,381.37 342.98,382.25 344.32,383.10 345.68,383.88 347.06,384.61 348.48,385.30 350.00,386.00 351.21,386.53 352.43,387.03 353.74,387.56 355.20,388.16 356.54,388.74 357.62,389.25 358.75,389.80 359.94,390.38 361.22,390.97 362.62,391.58 364.17,392.20 365.55,392.70 366.70,393.10 367.90,393.51 369.16,393.93 370.46,394.35 371.81,394.78 373.21,395.21 374.65,395.62 376.13,396.04 377.65,396.43 379.21,396.82 380.59,397.14 381.67,397.40 382.66,397.66 383.60,397.90 384.51,398.14 385.43,398.38 386.41,398.61 387.46,398.84 388.63,399.07 389.95,399.30 391.45,399.53 393.17,399.76 395.15,400.00 397.41,400.25 400.00,400.50 400.96,400.59 401.95,400.68 402.97,400.77 404.03,400.87 405.12,400.97 406.23,401.06 407.38,401.16 408.55,401.27 409.76,401.37 410.98,401.47 412.24,401.57 413.52,401.68 414.82,401.78 416.15,401.89 417.50,402.00 418.87,402.10 420.26,402.21 421.67,402.31 423.10,402.42 424.54,402.53 426.01,402.63 427.49,402.73 428.98,402.84 430.49,402.94 432.02,403.04 433.55,403.14 435.10,403.24 436.66,403.34 438.23,403.43 439.81,403.53 441.40,403.62 443.00,403.71 444.60,403.80 446.21,403.88 447.82,403.97 449.44,404.05 451.06,404.13 452.68,404.20 454.31,404.27 455.94,404.34 457.56,404.41 459.19,404.47 460.63,404.52 461.91,404.57 463.22,404.61 464.57,404.65 465.94,404.69 467.35,404.72 468.79,404.76 470.25,404.79 471.73,404.83 473.24,404.86 474.77,404.89 476.32,404.92 477.88,404.95 479.47,404.97 481.06,405.00 482.67,405.02 484.29,405.05 485.92,405.07 487.56,405.09 489.20,405.11 490.84,405.13 492.49,405.15 494.14,405.17 495.79,405.19 497.44,405.20 499.08,405.22 500.72,405.23 502.34,405.25 503.96,405.26 505.57,405.27 507.17,405.28 508.75,405.30 510.31,405.31 511.86,405.32 513.39,405.33 514.89,405.34 516.38,405.35 517.84,405.36 519.27,405.37 520.68,405.37 522.05,405.38 523.40,405.39 524.71,405.40 525.99,405.41 527.23,405.41 528.43,405.42 529.59,405.43 530.71,405.44 531.79,405.44 532.83,405.45 533.82,405.46 534.76,405.47 535.65,405.47 536.48,405.48 537.27,405.49 538.00,405.50 538.00,405.50" fill="none" stroke="#ff0000" stroke-width="4.0" stroke-linejoin="round" stroke-linecap="round"/>
<polygon points="318.60,347.70 320.90,352.07 316.30,352.07" fill="#0000ff"/>
<polygon points="320.00,344.20 322.30,348.57 317.70,348.57" fill="#0000ff"/>
<polygon points="321.50,342.20 323.80,346.57 319.20,346.57" fill="#0000ff"/>
<polygon points="327.50,344.20 329.80,348.57 325.20,348.57" fill="#0000ff"/>
<polyline points="328.00,347.00 328.35,347.91 328.84,349.19 329.43,350.69 330.02,352.26 330.57,353.75 331.00,355.00 331.43,356.68 331.67,358.08 331.96,359.36 332.57,360.74 333.46,362.12 334.47,363.40 335.54,364.54 336.71,365.47 337.91,366.42 338.93,367.48 339.79,368.53 340.65,369.67 341.54,370.88 342.42,372.08 343.30,373.31 344.19,374.60 345.10,375.86 346.00,377.00 346.95,378.12 347.88,379.12 348.86,380.07 350.00,381.00 351.14,381.78 352.36,382.51 353.70,383.24 355.19,384.05 356.54,384.81 357.62,385.47 358.75,386.18 359.94,386.91 361.22,387.65 362.62,388.40 364.17,389.14 365.55,389.73 366.70,390.19 367.90,390.67 369.16,391.14 370.46,391.62 371.81,392.09 373.21,392.56 374.65,393.02 376.13,393.47 377.65,393.89 379.21,394.30 380.60,394.65 381.81,394.93 383.03,395.20 384.26,395.47 385.51,395.73 386.77,395.98 388.07,396.23 389.40,396.47 390.76,396.70 392.17,396.93 393.62,397.15 395.13,397.37 396.69,397.58 398.31,397.79 400.00,398.00 401.18,398.14 402.41,398.27 403.67,398.41 404.97,398.54 406.29,398.67 407.65,398.80 409.03,398.92 410.43,399.05 411.85,399.17 413.29,399.29 414.74,399.40 416.20,399.52 417.67,399.63 419.14,399.74 420.61,399.85 422.08,399.96 423.55,400.06 425.01,400.16 426.45,400.26 427.88,400.36 429.30,400.45 430.70,400.55 432.03,400.64 433.27,400.73 434.44,400.81 435.56,400.89 436.64,400.97 437.70,401.05 438.75,401.12 439.80,401.19 440.88,401.26 442.00,401.33 443.17,401.40 444.42,401.46 445.74,401.53 447.17,401.59 448.72,401.65 450.40,401.72 452.22,401.78 454.21,401.84 456.38,401.90 458.74,401.97 460.49,402.01 461.52,402.04 462.60,402.06 463.74,402.09 464.92,402.11 466.14,402.14 467.42,402.16 468.73,402.19 470.08,402.21 471.48,402.24 472.90,402.26 474.36,402.29 475.86,402.31 477.38,402.34 478.92,402.37 480.49,402.39 482.09,402.42 483.70,402.44 485.33,402.47 486.98,402.49 488.64,402.52 490.31,402.54 491.99,402.57 493.68,402.59 495.37,402.62 497.07,402.64 498.76,402.66 500.45,402.69 502.14,402.71 503.82,402.73 505.49,402.76 507.16,402.78 508.80,402.80 510.44,402.83 512.05,402.85 513.65,402.87 515.22,402.89 516.77,402.91 518.29,402.93 519.79,402.95 521.25,402.97 522.68,402.99 524.08,403.01 525.44,403.03 526.75,403.04 528.03,403.06 529.26,403.08 530.45,403.09 531.58,403.11 532.67,403.12 533.70,403.14 534.68,403.15 535.60,403.16 536.47,403.18 537.26,403.19 538.00,403.20 538.00,403.20" fill="none" stroke="#0000ff" stroke-width="5.3" stroke-linejoin="round" stroke-linecap="round"/>
<polyline points="319.00,358.00 319.47,357.07 320.13,355.74 320.89,354.22 321.65,352.70 322.33,351.33 323.00,349.96 323.67,348.60 324.33,347.27 325.00,346.00 325.77,344.47 326.56,342.88 327.32,341.59 328.00,341.00 328.76,341.59 329.41,343.19 330.00,345.00 330.40,346.36 330.75,347.88 331.10,349.45 331.50,351.00 331.89,352.53 332.30,354.22 332.74,355.74 333.23,356.77 333.88,356.94 334.74,355.93 335.65,354.36 336.50,353.00 337.54,351.61 338.51,350.42 339.83,349.52 341.50,349.50 342.48,350.33 343.47,351.68 344.35,353.08 345.09,354.45 345.85,355.95 346.62,357.38 347.50,358.74 348.50,360.07 349.50,361.24 350.60,362.44 351.80,363.59 353.00,364.60 354.15,365.44 355.34,366.16 356.54,366.76 357.56,367.22 358.97,367.70 360.52,368.14 361.71,368.46 363.05,368.81 364.50,369.17 366.03,369.54 367.62,369.90 369.21,370.24 370.65,370.53 371.99,370.78 373.35,371.03 374.75,371.27 376.17,371.51 377.61,371.74 379.07,371.97 380.53,372.19 382.00,372.40 383.39,372.60 384.78,372.79 386.19,372.97 387.60,373.15 389.03,373.32 390.48,373.50 391.96,373.67 393.46,373.83 395.00,374.00 396.29,374.14 397.51,374.26 398.70,374.38 399.89,374.49 401.12,374.61 402.42,374.73 403.81,374.85 405.35,374.99 407.05,375.14 408.96,375.31 410.53,375.45 411.62,375.54 412.75,375.64 413.92,375.75 415.12,375.85 416.37,375.96 417.65,376.07 418.96,376.19 420.30,376.30 421.68,376.42 423.08,376.54 424.51,376.67 425.97,376.79 427.45,376.92 428.96,377.05 430.48,377.18 432.03,377.32 433.59,377.45 435.17,377.59 436.77,377.72 438.38,377.86 440.00,378.00 441.24,378.11 442.50,378.22 443.79,378.33 445.10,378.44 446.42,378.56 447.76,378.67 449.13,378.79 450.50,378.91 451.89,379.03 453.30,379.15 454.71,379.28 456.14,379.40 457.57,379.53 459.01,379.65 460.46,379.78 461.92,379.90 463.37,380.03 464.83,380.15 466.30,380.27 467.76,380.40 469.22,380.52 470.68,380.64 472.13,380.76 473.58,380.88 475.02,381.00 476.46,381.12 477.88,381.23 479.30,381.34 480.71,381.46 482.13,381.57 483.59,381.68 485.06,381.79 486.55,381.90 488.05,382.01 489.56,382.13 491.09,382.24 492.62,382.35 494.15,382.46 495.68,382.57 497.21,382.68 498.73,382.79 500.25,382.90 501.75,383.00 503.24,383.11 504.71,383.21 506.16,383.31 507.59,383.41 508.99,383.51 510.37,383.61 511.71,383.70 513.02,383.80 514.29,383.89 515.53,383.98 516.72,384.06 517.86,384.14 518.96,384.22 520.00,384.30 522.24,384.47 524.32,384.62 526.24,384.77 528.01,384.91 529.65,385.04 531.15,385.15 532.51,385.26 533.76,385.36 534.89,385.45 535.90,385.53 536.82,385.61 537.63,385.67 538.00,385.70" fill="none" stroke="#008000" stroke-width="5.0" stroke-linejoin="round" stroke-linecap="round"/>
<polyline points="318.60,344.00 319.04,343.01 319.66,341.58 320.38,340.00 321.14,338.57 322.04,337.31 323.18,336.25 324.38,335.41 325.66,334.54 327.06,333.56 328.41,332.97 329.52,333.28 330.41,334.44 331.16,336.09 331.69,337.58 332.02,338.91 332.31,340.38 332.58,341.88 332.85,343.33 333.19,344.85 333.56,346.67 333.94,348.38 334.31,349.64 334.98,350.22 336.00,348.00 336.26,346.95 336.52,345.58 336.80,344.01 337.08,342.36 337.38,340.73 337.68,339.24 338.00,338.00 338.68,335.97 339.40,334.32 340.14,333.25 340.98,333.03 341.93,334.16 343.00,336.00 343.64,337.10 344.33,338.42 345.05,339.84 345.78,341.24 346.50,342.50 347.39,343.90 348.28,345.22 349.16,346.43 350.00,347.50 351.04,348.80 352.02,349.87 353.00,350.50 354.44,350.29 356.00,349.50 357.22,348.97 358.56,348.36 360.00,347.80 361.21,347.38 362.45,346.99 364.01,346.65 365.56,346.43 366.81,346.32 368.20,346.22 369.69,346.14 371.22,346.05 372.77,345.97 374.27,345.86 375.71,345.73 377.14,345.58 378.57,345.41 380.00,345.24 381.43,345.06 382.86,344.90 384.29,344.76 385.73,344.64 387.23,344.54 388.78,344.44 390.31,344.36 391.80,344.29 393.19,344.24 394.44,344.21 395.93,344.19 397.23,344.24 398.35,344.34 400.00,344.50 400.99,344.58 401.91,344.65 402.89,344.73 404.05,344.84 405.54,344.99 407.48,345.20 410.00,345.50 410.96,345.62 411.99,345.74 413.07,345.87 414.21,346.01 415.40,346.16 416.64,346.31 417.93,346.47 419.26,346.63 420.63,346.81 422.04,346.98 423.49,347.16 424.97,347.35 426.47,347.54 428.00,347.74 429.56,347.94 431.13,348.14 432.72,348.34 434.32,348.55 435.94,348.76 437.56,348.98 439.19,349.19 440.62,349.38 441.87,349.55 443.14,349.72 444.44,349.90 445.76,350.08 447.09,350.27 448.44,350.45 449.81,350.65 451.20,350.84 452.59,351.04 454.00,351.24 455.42,351.44 456.85,351.64 458.29,351.84 459.74,352.04 461.19,352.25 462.64,352.45 464.10,352.66 465.57,352.86 467.03,353.06 468.49,353.27 469.95,353.47 471.40,353.66 472.86,353.86 474.30,354.06 475.74,354.25 477.17,354.43 478.59,354.62 480.00,354.80 481.42,354.98 482.86,355.16 484.32,355.34 485.80,355.52 487.30,355.70 488.81,355.88 490.33,356.06 491.85,356.24 493.38,356.41 494.91,356.59 496.44,356.77 497.97,356.94 499.49,357.12 501.00,357.29 502.50,357.46 503.98,357.63 505.44,357.79 506.88,357.96 508.30,358.12 509.69,358.28 511.05,358.43 512.37,358.59 513.66,358.74 514.92,358.88 516.13,359.03 517.29,359.17 518.41,359.30 519.48,359.44 521.14,359.64 523.30,359.93 525.30,360.20 527.14,360.45 528.85,360.70 530.41,360.93 531.85,361.15 533.15,361.35 534.34,361.53 535.41,361.70 536.37,361.85 537.23,361.99 538.00,362.10 538.00,362.10" fill="none" stroke="#940090" stroke-width="5.5" stroke-linejoin="round" stroke-linecap="round"/>
<polyline points="318.60,360.00 318.81,359.09 319.09,357.84 319.43,356.36 319.80,354.74 320.20,353.08 320.60,351.46 321.00,350.00 321.43,348.54 321.88,347.08 322.34,345.64 322.82,344.23 323.30,342.89 323.77,341.61 324.30,340.22 324.90,338.68 325.50,337.22 326.10,335.93 326.70,334.90 327.77,333.82 329.32,333.60 330.34,334.42 330.95,335.73 331.49,337.37 332.00,339.00 332.45,340.47 332.88,342.06 333.24,343.50 333.50,344.50 333.50,344.50" fill="none" stroke="#858700" stroke-width="5.5" stroke-linejoin="round" stroke-linecap="round"/>
<polygon points="331.00,338.70 335.37,336.40 335.37,341.00" fill="#858700"/>
<polygon points="332.00,329.30 336.37,327.00 336.37,331.60" fill="#858700"/>
<polygon points="332.40,321.30 336.77,319.00 336.77,323.60" fill="#858700"/>
<polygon points="333.30,313.30 337.67,311.00 337.67,315.60" fill="#858700"/>
<polygon points="333.70,308.00 338.07,305.70 338.07,310.30" fill="#858700"/>
<polygon points="333.70,304.50 338.07,302.20 338.07,306.80" fill="#858700"/>
<polygon points="334.00,301.00 338.37,298.70 338.37,303.30" fill="#858700"/>
<polygon points="334.40,297.50 338.77,295.20 338.77,299.80" fill="#858700"/>
<polygon points="331.50,334.00 335.87,331.70 335.87,336.30" fill="#858700"/>
<polygon points="332.70,325.50 337.07,323.20 337.07,327.80" fill="#858700"/>
<polygon points="333.00,317.50 337.37,315.20 337.37,319.80" fill="#858700"/>
<polyline points="337.00,296.00 337.86,294.79 339.00,293.50 340.53,292.71 341.85,293.15 342.93,294.48 343.76,296.06 344.31,297.42 344.87,298.97 345.44,300.55 346.00,302.00 346.62,303.48 347.23,304.91 347.85,306.25 348.50,307.50 349.39,309.00 350.31,310.34 351.30,311.50 352.65,312.81 354.05,313.75 355.30,313.75 356.42,312.78 357.50,311.50 358.26,310.43 359.01,309.22 360.20,307.80 361.09,306.96 362.14,306.01 363.30,305.01 364.52,304.01 365.74,303.06 366.90,302.20 368.15,301.37 369.43,300.61 370.71,299.90 371.94,299.23 373.08,298.60 374.33,297.86 375.51,297.13 376.62,296.43 378.00,295.60 379.11,294.94 380.35,294.20 381.67,293.42 383.02,292.65 384.35,291.93 385.70,291.25 387.13,290.58 388.56,289.94 389.97,289.35 391.34,288.83 392.79,288.33 394.28,287.87 395.72,287.51 397.21,287.27 398.65,287.17 399.93,287.18 401.25,287.26 402.65,287.42 404.17,287.66 405.62,287.91 406.94,288.18 408.35,288.49 409.81,288.83 411.31,289.20 412.80,289.59 414.28,290.00 415.66,290.39 416.92,290.77 418.15,291.16 419.38,291.56 420.64,291.99 421.97,292.45 423.42,292.95 425.00,293.50 426.16,293.90 427.36,294.33 428.60,294.78 429.88,295.24 431.20,295.72 432.56,296.22 433.97,296.72 435.41,297.24 436.90,297.75 438.43,298.28 440.00,298.80 441.23,299.20 442.50,299.62 443.81,300.05 445.16,300.49 446.53,300.93 447.92,301.38 449.33,301.83 450.76,302.28 452.19,302.72 453.63,303.16 455.06,303.59 456.49,304.01 457.91,304.42 459.31,304.81 460.69,305.18 462.07,305.55 463.45,305.90 464.83,306.24 466.21,306.58 467.59,306.91 468.97,307.23 470.34,307.54 471.72,307.85 473.10,308.15 474.48,308.45 475.86,308.74 477.24,309.03 478.62,309.32 480.00,309.60 481.38,309.88 482.76,310.15 484.14,310.41 485.52,310.67 486.90,310.92 488.28,311.16 489.66,311.40 491.03,311.64 492.41,311.88 493.79,312.12 495.17,312.35 496.55,312.59 497.93,312.83 499.31,313.08 500.69,313.32 502.08,313.57 503.47,313.82 504.87,314.07 506.27,314.32 507.68,314.57 509.08,314.82 510.47,315.07 511.87,315.32 513.25,315.57 514.63,315.82 515.99,316.07 517.34,316.31 518.68,316.56 520.00,316.80 521.50,317.08 523.06,317.37 524.66,317.67 526.28,317.97 527.89,318.28 529.47,318.58 531.01,318.87 532.48,319.15 533.85,319.41 535.12,319.65 536.24,319.87 537.21,320.05 538.00,320.20 538.00,320.20" fill="none" stroke="#858700" stroke-width="5.5" stroke-linejoin="round" stroke-linecap="round"/>
</g>
<rect x="46.50" y="13.50" width="218.50" height="174.30" fill="none" stroke="#2b2b2b" stroke-width="1.3"/>
<line x1="46.50" y1="187.80" x2="46.50" y2="191.10" stroke="#2b2b2b" stroke-width="1"/>
<line x1="46.50" y1="13.50" x2="46.50" y2="16.80" stroke="#2b2b2b" stroke-width="1"/>
<text x="46.50" y="202.30" font-size="10.7" text-anchor="middle" font-family="Liberation Sans" font-weight="normal" stroke="#111" stroke-width="0.25" >200</text>
<line x1="64.71" y1="187.80" x2="64.71" y2="189.60" stroke="#2b2b2b" stroke-width="1"/>
<line x1="64.71" y1="13.50" x2="64.71" y2="15.30" stroke="#2b2b2b" stroke-width="1"/>
<line x1="82.92" y1="187.80" x2="82.92" y2="191.10" stroke="#2b2b2b" stroke-width="1"/>
<line x1="82.92" y1="13.50" x2="82.92" y2="16.80" stroke="#2b2b2b" stroke-width="1"/>
<text x="82.92" y="202.30" font-size="10.7" text-anchor="middle" font-family="Liberation Sans" font-weight="normal" stroke="#111" stroke-width="0.25" >300</text>
<line x1="101.12" y1="187.80" x2="101.12" y2="189.60" stroke="#2b2b2b" stroke-width="1"/>
<line x1="101.12" y1="13.50" x2="101.12" y2="15.30" stroke="#2b2b2b" stroke-width="1"/>
<line x1="119.33" y1="187.80" x2="119.33" y2="191.10" stroke="#2b2b2b" stroke-width="1"/>
<line x1="119.33" y1="13.50" x2="119.33" y2="16.80" stroke="#2b2b2b" stroke-width="1"/>
<text x="119.33" y="202.30" font-size="10.7" text-anchor="middle" font-family="Liberation Sans" font-weight="normal" stroke="#111" stroke-width="0.25" >400</text>
<line x1="137.54" y1="187.80" x2="137.54" y2="189.60" stroke="#2b2b2b" stroke-width="1"/>
<line x1="137.54" y1="13.50" x2="137.54" y2="15.30" stroke="#2b2b2b" stroke-width="1"/>
<line x1="155.75" y1="187.80" x2="155.75" y2="191.10" stroke="#2b2b2b" stroke-width="1"/>
<line x1="155.75" y1="13.50" x2="155.75" y2="16.80" stroke="#2b2b2b" stroke-width="1"/>
<text x="155.75" y="202.30" font-size="10.7" text-anchor="middle" font-family="Liberation Sans" font-weight="normal" stroke="#111" stroke-width="0.25" >500</text>
<line x1="173.96" y1="187.80" x2="173.96" y2="189.60" stroke="#2b2b2b" stroke-width="1"/>
<line x1="173.96" y1="13.50" x2="173.96" y2="15.30" stroke="#2b2b2b" stroke-width="1"/>
<line x1="192.17" y1="187.80" x2="192.17" y2="191.10" stroke="#2b2b2b" stroke-width="1"/>
<line x1="192.17" y1="13.50" x2="192.17" y2="16.80" stroke="#2b2b2b" stroke-width="1"/>
<text x="192.17" y="202.30" font-size="10.7" text-anchor="middle" font-family="Liberation Sans" font-weight="normal" stroke="#111" stroke-width="0.25" >600</text>
<line x1="210.38" y1="187.80" x2="210.38" y2="189.60" stroke="#2b2b2b" stroke-width="1"/>
<line x1="210.38" y1="13.50" x2="210.38" y2="15.30" stroke="#2b2b2b" stroke-width="1"/>
<line x1="228.58" y1="187.80" x2="228.58" y2="191.10" stroke="#2b2b2b" stroke-width="1"/>
<line x1="228.58" y1="13.50" x2="228.58" y2="16.80" stroke="#2b2b2b" stroke-width="1"/>
<text x="228.58" y="202.30" font-size="10.7" text-anchor="middle" font-family="Liberation Sans" font-weight="normal" stroke="#111" stroke-width="0.25" >700</text>
<line x1="246.79" y1="187.80" x2="246.79" y2="189.60" stroke="#2b2b2b" stroke-width="1"/>
<line x1="246.79" y1="13.50" x2="246.79" y2="15.30" stroke="#2b2b2b" stroke-width="1"/>
<line x1="265.00" y1="187.80" x2="265.00" y2="191.10" stroke="#2b2b2b" stroke-width="1"/>
<line x1="265.00" y1="13.50" x2="265.00" y2="16.80" stroke="#2b2b2b" stroke-width="1"/>
<text x="265.00" y="202.30" font-size="10.7" text-anchor="middle" font-family="Liberation Sans" font-weight="normal" stroke="#111" stroke-width="0.25" >800</text>
<line x1="43.20" y1="187.80" x2="46.50" y2="187.80" stroke="#2b2b2b" stroke-width="1"/>
<line x1="261.70" y1="187.80" x2="265.00" y2="187.80" stroke="#2b2b2b" stroke-width="1"/>
<line x1="43.20" y1="162.90" x2="46.50" y2="162.90" stroke="#2b2b2b" stroke-width="1"/>
<line x1="261.70" y1="162.90" x2="265.00" y2="162.90" stroke="#2b2b2b" stroke-width="1"/>
<line x1="43.20" y1="138.00" x2="46.50" y2="138.00" stroke="#2b2b2b" stroke-width="1"/>
<line x1="261.70" y1="138.00" x2="265.00" y2="138.00" stroke="#2b2b2b" stroke-width="1"/>
<line x1="43.20" y1="113.10" x2="46.50" y2="113.10" stroke="#2b2b2b" stroke-width="1"/>
<line x1="261.70" y1="113.10" x2="265.00" y2="113.10" stroke="#2b2b2b" stroke-width="1"/>
<line x1="43.20" y1="88.20" x2="46.50" y2="88.20" stroke="#2b2b2b" stroke-width="1"/>
<line x1="261.70" y1="88.20" x2="265.00" y2="88.20" stroke="#2b2b2b" stroke-width="1"/>
<line x1="43.20" y1="63.30" x2="46.50" y2="63.30" stroke="#2b2b2b" stroke-width="1"/>
<line x1="261.70" y1="63.30" x2="265.00" y2="63.30" stroke="#2b2b2b" stroke-width="1"/>
<line x1="43.20" y1="38.40" x2="46.50" y2="38.40" stroke="#2b2b2b" stroke-width="1"/>
<line x1="261.70" y1="38.40" x2="265.00" y2="38.40" stroke="#2b2b2b" stroke-width="1"/>
<line x1="43.20" y1="13.50" x2="46.50" y2="13.50" stroke="#2b2b2b" stroke-width="1"/>
<line x1="261.70" y1="13.50" x2="265.00" y2="13.50" stroke="#2b2b2b" stroke-width="1"/>
<line x1="44.70" y1="175.35" x2="46.50" y2="175.35" stroke="#2b2b2b" stroke-width="1"/>
<line x1="263.20" y1="175.35" x2="265.00" y2="175.35" stroke="#2b2b2b" stroke-width="1"/>
<line x1="44.70" y1="150.45" x2="46.50" y2="150.45" stroke="#2b2b2b" stroke-width="1"/>
<line x1="263.20" y1="150.45" x2="265.00" y2="150.45" stroke="#2b2b2b" stroke-width="1"/>
<line x1="44.70" y1="125.55" x2="46.50" y2="125.55" stroke="#2b2b2b" stroke-width="1"/>
<line x1="263.20" y1="125.55" x2="265.00" y2="125.55" stroke="#2b2b2b" stroke-width="1"/>
<line x1="44.70" y1="100.65" x2="46.50" y2="100.65" stroke="#2b2b2b" stroke-width="1"/>
<line x1="263.20" y1="100.65" x2="265.00" y2="100.65" stroke="#2b2b2b" stroke-width="1"/>
<line x1="44.70" y1="75.75" x2="46.50" y2="75.75" stroke="#2b2b2b" stroke-width="1"/>
<line x1="263.20" y1="75.75" x2="265.00" y2="75.75" stroke="#2b2b2b" stroke-width="1"/>
<line x1="44.70" y1="50.85" x2="46.50" y2="50.85" stroke="#2b2b2b" stroke-width="1"/>
<line x1="263.20" y1="50.85" x2="265.00" y2="50.85" stroke="#2b2b2b" stroke-width="1"/>
<line x1="44.70" y1="25.95" x2="46.50" y2="25.95" stroke="#2b2b2b" stroke-width="1"/>
<line x1="263.20" y1="25.95" x2="265.00" y2="25.95" stroke="#2b2b2b" stroke-width="1"/>
<text x="40.20" y="191.65" font-size="10.7" text-anchor="end" font-family="Liberation Sans" font-weight="normal" stroke="#111" stroke-width="0.25" >0</text>
<text x="40.20" y="166.75" font-size="10.7" text-anchor="end" font-family="Liberation Sans" font-weight="normal" stroke="#111" stroke-width="0.25" >1</text>
<text x="40.20" y="141.85" font-size="10.7" text-anchor="end" font-family="Liberation Sans" font-weight="normal" stroke="#111" stroke-width="0.25" >2</text>
<text x="40.20" y="116.95" font-size="10.7" text-anchor="end" font-family="Liberation Sans" font-weight="normal" stroke="#111" stroke-width="0.25" >3</text>
<text x="40.20" y="92.05" font-size="10.7" text-anchor="end" font-family="Liberation Sans" font-weight="normal" stroke="#111" stroke-width="0.25" >4</text>
<text x="40.20" y="67.15" font-size="10.7" text-anchor="end" font-family="Liberation Sans" font-weight="normal" stroke="#111" stroke-width="0.25" >5</text>
<text x="40.20" y="42.25" font-size="10.7" text-anchor="end" font-family="Liberation Sans" font-weight="normal" stroke="#111" stroke-width="0.25" >6</text>
<text x="40.20" y="17.35" font-size="10.7" text-anchor="end" font-family="Liberation Sans" font-weight="normal" stroke="#111" stroke-width="0.25" >7</text>
<text transform="translate(17.00,102.00) rotate(-90)" font-size="10.7" font-family="Liberation Sans" text-anchor="middle" stroke="#111" stroke-width="0.25">kx10<tspan font-size="6.63" dy="-4.49">-4</tspan></text>
<text x="161.00" y="220.00" font-size="10.85" text-anchor="middle" font-family="Liberation Sans" font-weight="normal" stroke="#111" stroke-width="0.25" >Wavelength (nm)</text>
<text x="148.80" y="11.80" font-size="10.84" text-anchor="middle" font-family="Liberation Sans" font-weight="normal" stroke="#111" stroke-width="0.25" >70% PVA/30% PVP/x wt% TPAI</text>
<rect x="81.50" y="19.10" width="4.00" height="4.00" fill="#000000"/>
<text x="99.20" y="24.93" font-size="10.65" text-anchor="start" font-family="Liberation Sans" font-weight="normal" stroke="#111" stroke-width="0.25" >Pure</text>
<circle cx="148.20" cy="21.10" r="2.40" fill="#ff0000"/>
<text x="163.50" y="24.93" font-size="10.65" text-anchor="start" font-family="Liberation Sans" font-weight="normal" stroke="#111" stroke-width="0.25" >x=6&#160; %</text>
<polygon points="83.50,31.40 86.10,36.34 80.90,36.34" fill="#0000ff"/>
<text x="99.20" y="37.83" font-size="10.65" text-anchor="start" font-family="Liberation Sans" font-weight="normal" stroke="#111" stroke-width="0.25" >x=11 %</text>
<polygon points="146.70,36.60 149.30,31.66 144.10,31.66" fill="#008000"/>
<text x="162.00" y="37.83" font-size="10.65" text-anchor="start" font-family="Liberation Sans" font-weight="normal" stroke="#111" stroke-width="0.25" >x=16 %</text>
<polygon points="83.50,44.50 86.30,47.30 83.50,50.10 80.70,47.30" fill="#940090"/>
<text x="99.20" y="51.13" font-size="10.65" text-anchor="start" font-family="Liberation Sans" font-weight="normal" stroke="#111" stroke-width="0.25" >x=20 %</text>
<polygon points="143.90,47.30 148.84,44.70 148.84,49.90" fill="#858700"/>
<text x="162.00" y="51.13" font-size="10.65" text-anchor="start" font-family="Liberation Sans" font-weight="normal" stroke="#111" stroke-width="0.25" >x=24&#160; %</text>
<text x="223.60" y="112.60" font-size="11.8" text-anchor="middle" font-family="Liberation Serif" font-weight="bold" stroke="#111" stroke-width="0.25" >(a)</text>
<rect x="40.80" y="241.40" width="220.40" height="174.90" fill="none" stroke="#2b2b2b" stroke-width="1.3"/>
<line x1="40.80" y1="416.30" x2="40.80" y2="419.60" stroke="#2b2b2b" stroke-width="1"/>
<line x1="40.80" y1="241.40" x2="40.80" y2="244.70" stroke="#2b2b2b" stroke-width="1"/>
<text x="40.80" y="431.00" font-size="10.7" text-anchor="middle" font-family="Liberation Sans" font-weight="normal" stroke="#111" stroke-width="0.25" >200</text>
<line x1="59.17" y1="416.30" x2="59.17" y2="418.10" stroke="#2b2b2b" stroke-width="1"/>
<line x1="59.17" y1="241.40" x2="59.17" y2="243.20" stroke="#2b2b2b" stroke-width="1"/>
<line x1="77.53" y1="416.30" x2="77.53" y2="419.60" stroke="#2b2b2b" stroke-width="1"/>
<line x1="77.53" y1="241.40" x2="77.53" y2="244.70" stroke="#2b2b2b" stroke-width="1"/>
<text x="77.53" y="431.00" font-size="10.7" text-anchor="middle" font-family="Liberation Sans" font-weight="normal" stroke="#111" stroke-width="0.25" >300</text>
<line x1="95.90" y1="416.30" x2="95.90" y2="418.10" stroke="#2b2b2b" stroke-width="1"/>
<line x1="95.90" y1="241.40" x2="95.90" y2="243.20" stroke="#2b2b2b" stroke-width="1"/>
<line x1="114.27" y1="416.30" x2="114.27" y2="419.60" stroke="#2b2b2b" stroke-width="1"/>
<line x1="114.27" y1="241.40" x2="114.27" y2="244.70" stroke="#2b2b2b" stroke-width="1"/>
<text x="114.27" y="431.00" font-size="10.7" text-anchor="middle" font-family="Liberation Sans" font-weight="normal" stroke="#111" stroke-width="0.25" >400</text>
<line x1="132.63" y1="416.30" x2="132.63" y2="418.10" stroke="#2b2b2b" stroke-width="1"/>
<line x1="132.63" y1="241.40" x2="132.63" y2="243.20" stroke="#2b2b2b" stroke-width="1"/>
<line x1="151.00" y1="416.30" x2="151.00" y2="419.60" stroke="#2b2b2b" stroke-width="1"/>
<line x1="151.00" y1="241.40" x2="151.00" y2="244.70" stroke="#2b2b2b" stroke-width="1"/>
<text x="151.00" y="431.00" font-size="10.7" text-anchor="middle" font-family="Liberation Sans" font-weight="normal" stroke="#111" stroke-width="0.25" >500</text>
<line x1="169.37" y1="416.30" x2="169.37" y2="418.10" stroke="#2b2b2b" stroke-width="1"/>
<line x1="169.37" y1="241.40" x2="169.37" y2="243.20" stroke="#2b2b2b" stroke-width="1"/>
<line x1="187.73" y1="416.30" x2="187.73" y2="419.60" stroke="#2b2b2b" stroke-width="1"/>
<line x1="187.73" y1="241.40" x2="187.73" y2="244.70" stroke="#2b2b2b" stroke-width="1"/>
<text x="187.73" y="431.00" font-size="10.7" text-anchor="middle" font-family="Liberation Sans" font-weight="normal" stroke="#111" stroke-width="0.25" >600</text>
<line x1="206.10" y1="416.30" x2="206.10" y2="418.10" stroke="#2b2b2b" stroke-width="1"/>
<line x1="206.10" y1="241.40" x2="206.10" y2="243.20" stroke="#2b2b2b" stroke-width="1"/>
<line x1="224.47" y1="416.30" x2="224.47" y2="419.60" stroke="#2b2b2b" stroke-width="1"/>
<line x1="224.47" y1="241.40" x2="224.47" y2="244.70" stroke="#2b2b2b" stroke-width="1"/>
<text x="224.47" y="431.00" font-size="10.7" text-anchor="middle" font-family="Liberation Sans" font-weight="normal" stroke="#111" stroke-width="0.25" >700</text>
<line x1="242.83" y1="416.30" x2="242.83" y2="418.10" stroke="#2b2b2b" stroke-width="1"/>
<line x1="242.83" y1="241.40" x2="242.83" y2="243.20" stroke="#2b2b2b" stroke-width="1"/>
<line x1="261.20" y1="416.30" x2="261.20" y2="419.60" stroke="#2b2b2b" stroke-width="1"/>
<line x1="261.20" y1="241.40" x2="261.20" y2="244.70" stroke="#2b2b2b" stroke-width="1"/>
<text x="261.20" y="431.00" font-size="10.7" text-anchor="middle" font-family="Liberation Sans" font-weight="normal" stroke="#111" stroke-width="0.25" >800</text>
<line x1="37.50" y1="416.30" x2="40.80" y2="416.30" stroke="#2b2b2b" stroke-width="1"/>
<line x1="257.90" y1="416.30" x2="261.20" y2="416.30" stroke="#2b2b2b" stroke-width="1"/>
<line x1="37.50" y1="396.12" x2="40.80" y2="396.12" stroke="#2b2b2b" stroke-width="1"/>
<line x1="257.90" y1="396.12" x2="261.20" y2="396.12" stroke="#2b2b2b" stroke-width="1"/>
<line x1="37.50" y1="375.94" x2="40.80" y2="375.94" stroke="#2b2b2b" stroke-width="1"/>
<line x1="257.90" y1="375.94" x2="261.20" y2="375.94" stroke="#2b2b2b" stroke-width="1"/>
<line x1="37.50" y1="355.76" x2="40.80" y2="355.76" stroke="#2b2b2b" stroke-width="1"/>
<line x1="257.90" y1="355.76" x2="261.20" y2="355.76" stroke="#2b2b2b" stroke-width="1"/>
<line x1="37.50" y1="335.58" x2="40.80" y2="335.58" stroke="#2b2b2b" stroke-width="1"/>
<line x1="257.90" y1="335.58" x2="261.20" y2="335.58" stroke="#2b2b2b" stroke-width="1"/>
<line x1="37.50" y1="315.40" x2="40.80" y2="315.40" stroke="#2b2b2b" stroke-width="1"/>
<line x1="257.90" y1="315.40" x2="261.20" y2="315.40" stroke="#2b2b2b" stroke-width="1"/>
<line x1="37.50" y1="295.22" x2="40.80" y2="295.22" stroke="#2b2b2b" stroke-width="1"/>
<line x1="257.90" y1="295.22" x2="261.20" y2="295.22" stroke="#2b2b2b" stroke-width="1"/>
<line x1="37.50" y1="275.03" x2="40.80" y2="275.03" stroke="#2b2b2b" stroke-width="1"/>
<line x1="257.90" y1="275.03" x2="261.20" y2="275.03" stroke="#2b2b2b" stroke-width="1"/>
<line x1="37.50" y1="254.85" x2="40.80" y2="254.85" stroke="#2b2b2b" stroke-width="1"/>
<line x1="257.90" y1="254.85" x2="261.20" y2="254.85" stroke="#2b2b2b" stroke-width="1"/>
<line x1="39.00" y1="406.21" x2="40.80" y2="406.21" stroke="#2b2b2b" stroke-width="1"/>
<line x1="259.40" y1="406.21" x2="261.20" y2="406.21" stroke="#2b2b2b" stroke-width="1"/>
<line x1="39.00" y1="386.03" x2="40.80" y2="386.03" stroke="#2b2b2b" stroke-width="1"/>
<line x1="259.40" y1="386.03" x2="261.20" y2="386.03" stroke="#2b2b2b" stroke-width="1"/>
<line x1="39.00" y1="365.85" x2="40.80" y2="365.85" stroke="#2b2b2b" stroke-width="1"/>
<line x1="259.40" y1="365.85" x2="261.20" y2="365.85" stroke="#2b2b2b" stroke-width="1"/>
<line x1="39.00" y1="345.67" x2="40.80" y2="345.67" stroke="#2b2b2b" stroke-width="1"/>
<line x1="259.40" y1="345.67" x2="261.20" y2="345.67" stroke="#2b2b2b" stroke-width="1"/>
<line x1="39.00" y1="325.49" x2="40.80" y2="325.49" stroke="#2b2b2b" stroke-width="1"/>
<line x1="259.40" y1="325.49" x2="261.20" y2="325.49" stroke="#2b2b2b" stroke-width="1"/>
<line x1="39.00" y1="305.31" x2="40.80" y2="305.31" stroke="#2b2b2b" stroke-width="1"/>
<line x1="259.40" y1="305.31" x2="261.20" y2="305.31" stroke="#2b2b2b" stroke-width="1"/>
<line x1="39.00" y1="285.12" x2="40.80" y2="285.12" stroke="#2b2b2b" stroke-width="1"/>
<line x1="259.40" y1="285.12" x2="261.20" y2="285.12" stroke="#2b2b2b" stroke-width="1"/>
<line x1="39.00" y1="264.94" x2="40.80" y2="264.94" stroke="#2b2b2b" stroke-width="1"/>
<line x1="259.40" y1="264.94" x2="261.20" y2="264.94" stroke="#2b2b2b" stroke-width="1"/>
<line x1="39.00" y1="244.76" x2="40.80" y2="244.76" stroke="#2b2b2b" stroke-width="1"/>
<line x1="259.40" y1="244.76" x2="261.20" y2="244.76" stroke="#2b2b2b" stroke-width="1"/>
<text x="34.50" y="420.15" font-size="10.7" text-anchor="end" font-family="Liberation Sans" font-weight="normal" stroke="#111" stroke-width="0.25" >1.2</text>
<text x="34.50" y="399.97" font-size="10.7" text-anchor="end" font-family="Liberation Sans" font-weight="normal" stroke="#111" stroke-width="0.25" >1.5</text>
<text x="34.50" y="379.79" font-size="10.7" text-anchor="end" font-family="Liberation Sans" font-weight="normal" stroke="#111" stroke-width="0.25" >1.8</text>
<text x="34.50" y="359.61" font-size="10.7" text-anchor="end" font-family="Liberation Sans" font-weight="normal" stroke="#111" stroke-width="0.25" >2.1</text>
<text x="34.50" y="339.43" font-size="10.7" text-anchor="end" font-family="Liberation Sans" font-weight="normal" stroke="#111" stroke-width="0.25" >2.4</text>
<text x="34.50" y="319.25" font-size="10.7" text-anchor="end" font-family="Liberation Sans" font-weight="normal" stroke="#111" stroke-width="0.25" >2.7</text>
<text x="34.50" y="299.07" font-size="10.7" text-anchor="end" font-family="Liberation Sans" font-weight="normal" stroke="#111" stroke-width="0.25" >3.0</text>
<text x="34.50" y="278.89" font-size="10.7" text-anchor="end" font-family="Liberation Sans" font-weight="normal" stroke="#111" stroke-width="0.25" >3.3</text>
<text x="34.50" y="258.71" font-size="10.7" text-anchor="end" font-family="Liberation Sans" font-weight="normal" stroke="#111" stroke-width="0.25" >3.6</text>
<text transform="translate(9.6,332.0) rotate(-90)" font-size="10.7" font-family="Liberation Sans" text-anchor="middle" stroke="#111" stroke-width="0.25">n</text>
<text x="157.00" y="444.00" font-size="10.9" text-anchor="middle" font-family="Liberation Sans" font-weight="normal" stroke="#111" stroke-width="0.25" >Wavelength (nm)</text>
<text x="77.20" y="272.40" font-size="11.8" text-anchor="middle" font-family="Liberation Serif" font-weight="bold" stroke="#111" stroke-width="0.25" >(b)</text>
<rect x="322.30" y="16.20" width="213.50" height="170.40" fill="none" stroke="#2b2b2b" stroke-width="1.3"/>
<line x1="322.30" y1="186.60" x2="322.30" y2="189.90" stroke="#2b2b2b" stroke-width="1"/>
<line x1="322.30" y1="16.20" x2="322.30" y2="19.50" stroke="#2b2b2b" stroke-width="1"/>
<text x="322.30" y="200.60" font-size="10.5" text-anchor="middle" font-family="Liberation Sans" font-weight="normal" stroke="#111" stroke-width="0.25" >200</text>
<line x1="340.09" y1="186.60" x2="340.09" y2="188.40" stroke="#2b2b2b" stroke-width="1"/>
<line x1="340.09" y1="16.20" x2="340.09" y2="18.00" stroke="#2b2b2b" stroke-width="1"/>
<line x1="357.88" y1="186.60" x2="357.88" y2="189.90" stroke="#2b2b2b" stroke-width="1"/>
<line x1="357.88" y1="16.20" x2="357.88" y2="19.50" stroke="#2b2b2b" stroke-width="1"/>
<text x="357.88" y="200.60" font-size="10.5" text-anchor="middle" font-family="Liberation Sans" font-weight="normal" stroke="#111" stroke-width="0.25" >300</text>
<line x1="375.68" y1="186.60" x2="375.68" y2="188.40" stroke="#2b2b2b" stroke-width="1"/>
<line x1="375.68" y1="16.20" x2="375.68" y2="18.00" stroke="#2b2b2b" stroke-width="1"/>
<line x1="393.47" y1="186.60" x2="393.47" y2="189.90" stroke="#2b2b2b" stroke-width="1"/>
<line x1="393.47" y1="16.20" x2="393.47" y2="19.50" stroke="#2b2b2b" stroke-width="1"/>
<text x="393.47" y="200.60" font-size="10.5" text-anchor="middle" font-family="Liberation Sans" font-weight="normal" stroke="#111" stroke-width="0.25" >400</text>
<line x1="411.26" y1="186.60" x2="411.26" y2="188.40" stroke="#2b2b2b" stroke-width="1"/>
<line x1="411.26" y1="16.20" x2="411.26" y2="18.00" stroke="#2b2b2b" stroke-width="1"/>
<line x1="429.05" y1="186.60" x2="429.05" y2="189.90" stroke="#2b2b2b" stroke-width="1"/>
<line x1="429.05" y1="16.20" x2="429.05" y2="19.50" stroke="#2b2b2b" stroke-width="1"/>
<text x="429.05" y="200.60" font-size="10.5" text-anchor="middle" font-family="Liberation Sans" font-weight="normal" stroke="#111" stroke-width="0.25" >500</text>
<line x1="446.84" y1="186.60" x2="446.84" y2="188.40" stroke="#2b2b2b" stroke-width="1"/>
<line x1="446.84" y1="16.20" x2="446.84" y2="18.00" stroke="#2b2b2b" stroke-width="1"/>
<line x1="464.63" y1="186.60" x2="464.63" y2="189.90" stroke="#2b2b2b" stroke-width="1"/>
<line x1="464.63" y1="16.20" x2="464.63" y2="19.50" stroke="#2b2b2b" stroke-width="1"/>
<text x="464.63" y="200.60" font-size="10.5" text-anchor="middle" font-family="Liberation Sans" font-weight="normal" stroke="#111" stroke-width="0.25" >600</text>
<line x1="482.42" y1="186.60" x2="482.42" y2="188.40" stroke="#2b2b2b" stroke-width="1"/>
<line x1="482.42" y1="16.20" x2="482.42" y2="18.00" stroke="#2b2b2b" stroke-width="1"/>
<line x1="500.22" y1="186.60" x2="500.22" y2="189.90" stroke="#2b2b2b" stroke-width="1"/>
<line x1="500.22" y1="16.20" x2="500.22" y2="19.50" stroke="#2b2b2b" stroke-width="1"/>
<text x="500.22" y="200.60" font-size="10.5" text-anchor="middle" font-family="Liberation Sans" font-weight="normal" stroke="#111" stroke-width="0.25" >700</text>
<line x1="518.01" y1="186.60" x2="518.01" y2="188.40" stroke="#2b2b2b" stroke-width="1"/>
<line x1="518.01" y1="16.20" x2="518.01" y2="18.00" stroke="#2b2b2b" stroke-width="1"/>
<line x1="535.80" y1="186.60" x2="535.80" y2="189.90" stroke="#2b2b2b" stroke-width="1"/>
<line x1="535.80" y1="16.20" x2="535.80" y2="19.50" stroke="#2b2b2b" stroke-width="1"/>
<text x="535.80" y="200.60" font-size="10.5" text-anchor="middle" font-family="Liberation Sans" font-weight="normal" stroke="#111" stroke-width="0.25" >800</text>
<line x1="319.00" y1="186.60" x2="322.30" y2="186.60" stroke="#2b2b2b" stroke-width="1"/>
<line x1="532.50" y1="186.60" x2="535.80" y2="186.60" stroke="#2b2b2b" stroke-width="1"/>
<line x1="319.00" y1="165.30" x2="322.30" y2="165.30" stroke="#2b2b2b" stroke-width="1"/>
<line x1="532.50" y1="165.30" x2="535.80" y2="165.30" stroke="#2b2b2b" stroke-width="1"/>
<line x1="319.00" y1="144.00" x2="322.30" y2="144.00" stroke="#2b2b2b" stroke-width="1"/>
<line x1="532.50" y1="144.00" x2="535.80" y2="144.00" stroke="#2b2b2b" stroke-width="1"/>
<line x1="319.00" y1="122.70" x2="322.30" y2="122.70" stroke="#2b2b2b" stroke-width="1"/>
<line x1="532.50" y1="122.70" x2="535.80" y2="122.70" stroke="#2b2b2b" stroke-width="1"/>
<line x1="319.00" y1="101.40" x2="322.30" y2="101.40" stroke="#2b2b2b" stroke-width="1"/>
<line x1="532.50" y1="101.40" x2="535.80" y2="101.40" stroke="#2b2b2b" stroke-width="1"/>
<line x1="319.00" y1="80.10" x2="322.30" y2="80.10" stroke="#2b2b2b" stroke-width="1"/>
<line x1="532.50" y1="80.10" x2="535.80" y2="80.10" stroke="#2b2b2b" stroke-width="1"/>
<line x1="319.00" y1="58.80" x2="322.30" y2="58.80" stroke="#2b2b2b" stroke-width="1"/>
<line x1="532.50" y1="58.80" x2="535.80" y2="58.80" stroke="#2b2b2b" stroke-width="1"/>
<line x1="319.00" y1="37.50" x2="322.30" y2="37.50" stroke="#2b2b2b" stroke-width="1"/>
<line x1="532.50" y1="37.50" x2="535.80" y2="37.50" stroke="#2b2b2b" stroke-width="1"/>
<line x1="319.00" y1="16.20" x2="322.30" y2="16.20" stroke="#2b2b2b" stroke-width="1"/>
<line x1="532.50" y1="16.20" x2="535.80" y2="16.20" stroke="#2b2b2b" stroke-width="1"/>
<line x1="320.50" y1="175.95" x2="322.30" y2="175.95" stroke="#2b2b2b" stroke-width="1"/>
<line x1="534.00" y1="175.95" x2="535.80" y2="175.95" stroke="#2b2b2b" stroke-width="1"/>
<line x1="320.50" y1="154.65" x2="322.30" y2="154.65" stroke="#2b2b2b" stroke-width="1"/>
<line x1="534.00" y1="154.65" x2="535.80" y2="154.65" stroke="#2b2b2b" stroke-width="1"/>
<line x1="320.50" y1="133.35" x2="322.30" y2="133.35" stroke="#2b2b2b" stroke-width="1"/>
<line x1="534.00" y1="133.35" x2="535.80" y2="133.35" stroke="#2b2b2b" stroke-width="1"/>
<line x1="320.50" y1="112.05" x2="322.30" y2="112.05" stroke="#2b2b2b" stroke-width="1"/>
<line x1="534.00" y1="112.05" x2="535.80" y2="112.05" stroke="#2b2b2b" stroke-width="1"/>
<line x1="320.50" y1="90.75" x2="322.30" y2="90.75" stroke="#2b2b2b" stroke-width="1"/>
<line x1="534.00" y1="90.75" x2="535.80" y2="90.75" stroke="#2b2b2b" stroke-width="1"/>
<line x1="320.50" y1="69.45" x2="322.30" y2="69.45" stroke="#2b2b2b" stroke-width="1"/>
<line x1="534.00" y1="69.45" x2="535.80" y2="69.45" stroke="#2b2b2b" stroke-width="1"/>
<line x1="320.50" y1="48.15" x2="322.30" y2="48.15" stroke="#2b2b2b" stroke-width="1"/>
<line x1="534.00" y1="48.15" x2="535.80" y2="48.15" stroke="#2b2b2b" stroke-width="1"/>
<line x1="320.50" y1="26.85" x2="322.30" y2="26.85" stroke="#2b2b2b" stroke-width="1"/>
<line x1="534.00" y1="26.85" x2="535.80" y2="26.85" stroke="#2b2b2b" stroke-width="1"/>
<text x="316.30" y="190.38" font-size="10.5" text-anchor="end" font-family="Liberation Sans" font-weight="normal" stroke="#111" stroke-width="0.25" >0</text>
<text x="316.30" y="169.08" font-size="10.5" text-anchor="end" font-family="Liberation Sans" font-weight="normal" stroke="#111" stroke-width="0.25" >1</text>
<text x="316.30" y="147.78" font-size="10.5" text-anchor="end" font-family="Liberation Sans" font-weight="normal" stroke="#111" stroke-width="0.25" >2</text>
<text x="316.30" y="126.48" font-size="10.5" text-anchor="end" font-family="Liberation Sans" font-weight="normal" stroke="#111" stroke-width="0.25" >3</text>
<text x="316.30" y="105.18" font-size="10.5" text-anchor="end" font-family="Liberation Sans" font-weight="normal" stroke="#111" stroke-width="0.25" >4</text>
<text x="316.30" y="83.88" font-size="10.5" text-anchor="end" font-family="Liberation Sans" font-weight="normal" stroke="#111" stroke-width="0.25" >5</text>
<text x="316.30" y="62.58" font-size="10.5" text-anchor="end" font-family="Liberation Sans" font-weight="normal" stroke="#111" stroke-width="0.25" >6</text>
<text x="316.30" y="41.28" font-size="10.5" text-anchor="end" font-family="Liberation Sans" font-weight="normal" stroke="#111" stroke-width="0.25" >7</text>
<text x="316.30" y="19.98" font-size="10.5" text-anchor="end" font-family="Liberation Sans" font-weight="normal" stroke="#111" stroke-width="0.25" >8</text>
<text transform="translate(293.00,102.80) rotate(-90)" font-size="10.5" font-family="Liberation Sans" text-anchor="middle" stroke="#111" stroke-width="0.25">kx10<tspan font-size="6.51" dy="-4.41">-4</tspan></text>
<text x="434.20" y="218.10" font-size="10.56" text-anchor="middle" font-family="Liberation Sans" font-weight="normal" stroke="#111" stroke-width="0.25" >Wavelength (nm)</text>
<text x="431.50" y="13.90" font-size="10.44" text-anchor="middle" font-family="Liberation Sans" font-weight="normal" stroke="#111" stroke-width="0.25" >70% PVA/30% PVP/x wt% THAI</text>
<rect x="366.40" y="21.40" width="4.00" height="4.00" fill="#000000"/>
<text x="384.10" y="27.22" font-size="10.6" text-anchor="start" font-family="Liberation Sans" font-weight="normal" stroke="#111" stroke-width="0.25" >Pure</text>
<circle cx="432.00" cy="23.40" r="2.40" fill="#ff0000"/>
<text x="446.90" y="27.22" font-size="10.6" text-anchor="start" font-family="Liberation Sans" font-weight="normal" stroke="#111" stroke-width="0.25" >x=6&#160;&#160; %</text>
<polygon points="368.40,33.90 371.00,38.84 365.80,38.84" fill="#0000ff"/>
<text x="384.10" y="40.32" font-size="10.6" text-anchor="start" font-family="Liberation Sans" font-weight="normal" stroke="#111" stroke-width="0.25" >x=11 %</text>
<polygon points="430.70,39.10 433.30,34.16 428.10,34.16" fill="#008000"/>
<text x="445.60" y="40.32" font-size="10.6" text-anchor="start" font-family="Liberation Sans" font-weight="normal" stroke="#111" stroke-width="0.25" >x=16 %</text>
<polygon points="368.40,46.40 371.20,49.20 368.40,52.00 365.60,49.20" fill="#940090"/>
<text x="384.10" y="53.02" font-size="10.6" text-anchor="start" font-family="Liberation Sans" font-weight="normal" stroke="#111" stroke-width="0.25" >x=20 %</text>
<polygon points="427.50,49.20 432.44,46.60 432.44,51.80" fill="#858700"/>
<text x="445.60" y="53.02" font-size="10.6" text-anchor="start" font-family="Liberation Sans" font-weight="normal" stroke="#111" stroke-width="0.25" >x=24&#160; %</text>
<text x="488.40" y="93.40" font-size="11.8" text-anchor="middle" font-family="Liberation Serif" font-weight="bold" stroke="#111" stroke-width="0.25" >(c)</text>
<rect x="318.60" y="239.30" width="220.30" height="175.10" fill="none" stroke="#2b2b2b" stroke-width="1.3"/>
<line x1="318.60" y1="414.40" x2="318.60" y2="417.70" stroke="#2b2b2b" stroke-width="1"/>
<line x1="318.60" y1="239.30" x2="318.60" y2="242.60" stroke="#2b2b2b" stroke-width="1"/>
<text x="318.60" y="428.40" font-size="10.7" text-anchor="middle" font-family="Liberation Sans" font-weight="normal" stroke="#111" stroke-width="0.25" >200</text>
<line x1="336.96" y1="414.40" x2="336.96" y2="416.20" stroke="#2b2b2b" stroke-width="1"/>
<line x1="336.96" y1="239.30" x2="336.96" y2="241.10" stroke="#2b2b2b" stroke-width="1"/>
<line x1="355.32" y1="414.40" x2="355.32" y2="417.70" stroke="#2b2b2b" stroke-width="1"/>
<line x1="355.32" y1="239.30" x2="355.32" y2="242.60" stroke="#2b2b2b" stroke-width="1"/>
<text x="355.32" y="428.40" font-size="10.7" text-anchor="middle" font-family="Liberation Sans" font-weight="normal" stroke="#111" stroke-width="0.25" >300</text>
<line x1="373.68" y1="414.40" x2="373.68" y2="416.20" stroke="#2b2b2b" stroke-width="1"/>
<line x1="373.68" y1="239.30" x2="373.68" y2="241.10" stroke="#2b2b2b" stroke-width="1"/>
<line x1="392.03" y1="414.40" x2="392.03" y2="417.70" stroke="#2b2b2b" stroke-width="1"/>
<line x1="392.03" y1="239.30" x2="392.03" y2="242.60" stroke="#2b2b2b" stroke-width="1"/>
<text x="392.03" y="428.40" font-size="10.7" text-anchor="middle" font-family="Liberation Sans" font-weight="normal" stroke="#111" stroke-width="0.25" >400</text>
<line x1="410.39" y1="414.40" x2="410.39" y2="416.20" stroke="#2b2b2b" stroke-width="1"/>
<line x1="410.39" y1="239.30" x2="410.39" y2="241.10" stroke="#2b2b2b" stroke-width="1"/>
<line x1="428.75" y1="414.40" x2="428.75" y2="417.70" stroke="#2b2b2b" stroke-width="1"/>
<line x1="428.75" y1="239.30" x2="428.75" y2="242.60" stroke="#2b2b2b" stroke-width="1"/>
<text x="428.75" y="428.40" font-size="10.7" text-anchor="middle" font-family="Liberation Sans" font-weight="normal" stroke="#111" stroke-width="0.25" >500</text>
<line x1="447.11" y1="414.40" x2="447.11" y2="416.20" stroke="#2b2b2b" stroke-width="1"/>
<line x1="447.11" y1="239.30" x2="447.11" y2="241.10" stroke="#2b2b2b" stroke-width="1"/>
<line x1="465.47" y1="414.40" x2="465.47" y2="417.70" stroke="#2b2b2b" stroke-width="1"/>
<line x1="465.47" y1="239.30" x2="465.47" y2="242.60" stroke="#2b2b2b" stroke-width="1"/>
<text x="465.47" y="428.40" font-size="10.7" text-anchor="middle" font-family="Liberation Sans" font-weight="normal" stroke="#111" stroke-width="0.25" >600</text>
<line x1="483.82" y1="414.40" x2="483.82" y2="416.20" stroke="#2b2b2b" stroke-width="1"/>
<line x1="483.82" y1="239.30" x2="483.82" y2="241.10" stroke="#2b2b2b" stroke-width="1"/>
<line x1="502.18" y1="414.40" x2="502.18" y2="417.70" stroke="#2b2b2b" stroke-width="1"/>
<line x1="502.18" y1="239.30" x2="502.18" y2="242.60" stroke="#2b2b2b" stroke-width="1"/>
<text x="502.18" y="428.40" font-size="10.7" text-anchor="middle" font-family="Liberation Sans" font-weight="normal" stroke="#111" stroke-width="0.25" >700</text>
<line x1="520.54" y1="414.40" x2="520.54" y2="416.20" stroke="#2b2b2b" stroke-width="1"/>
<line x1="520.54" y1="239.30" x2="520.54" y2="241.10" stroke="#2b2b2b" stroke-width="1"/>
<line x1="538.90" y1="414.40" x2="538.90" y2="417.70" stroke="#2b2b2b" stroke-width="1"/>
<line x1="538.90" y1="239.30" x2="538.90" y2="242.60" stroke="#2b2b2b" stroke-width="1"/>
<text x="538.90" y="428.40" font-size="10.7" text-anchor="middle" font-family="Liberation Sans" font-weight="normal" stroke="#111" stroke-width="0.25" >800</text>
<line x1="315.30" y1="414.40" x2="318.60" y2="414.40" stroke="#2b2b2b" stroke-width="1"/>
<line x1="535.60" y1="414.40" x2="538.90" y2="414.40" stroke="#2b2b2b" stroke-width="1"/>
<line x1="315.30" y1="394.20" x2="318.60" y2="394.20" stroke="#2b2b2b" stroke-width="1"/>
<line x1="535.60" y1="394.20" x2="538.90" y2="394.20" stroke="#2b2b2b" stroke-width="1"/>
<line x1="315.30" y1="373.99" x2="318.60" y2="373.99" stroke="#2b2b2b" stroke-width="1"/>
<line x1="535.60" y1="373.99" x2="538.90" y2="373.99" stroke="#2b2b2b" stroke-width="1"/>
<line x1="315.30" y1="353.79" x2="318.60" y2="353.79" stroke="#2b2b2b" stroke-width="1"/>
<line x1="535.60" y1="353.79" x2="538.90" y2="353.79" stroke="#2b2b2b" stroke-width="1"/>
<line x1="315.30" y1="333.58" x2="318.60" y2="333.58" stroke="#2b2b2b" stroke-width="1"/>
<line x1="535.60" y1="333.58" x2="538.90" y2="333.58" stroke="#2b2b2b" stroke-width="1"/>
<line x1="315.30" y1="313.38" x2="318.60" y2="313.38" stroke="#2b2b2b" stroke-width="1"/>
<line x1="535.60" y1="313.38" x2="538.90" y2="313.38" stroke="#2b2b2b" stroke-width="1"/>
<line x1="315.30" y1="293.18" x2="318.60" y2="293.18" stroke="#2b2b2b" stroke-width="1"/>
<line x1="535.60" y1="293.18" x2="538.90" y2="293.18" stroke="#2b2b2b" stroke-width="1"/>
<line x1="315.30" y1="272.97" x2="318.60" y2="272.97" stroke="#2b2b2b" stroke-width="1"/>
<line x1="535.60" y1="272.97" x2="538.90" y2="272.97" stroke="#2b2b2b" stroke-width="1"/>
<line x1="315.30" y1="252.77" x2="318.60" y2="252.77" stroke="#2b2b2b" stroke-width="1"/>
<line x1="535.60" y1="252.77" x2="538.90" y2="252.77" stroke="#2b2b2b" stroke-width="1"/>
<line x1="316.80" y1="404.30" x2="318.60" y2="404.30" stroke="#2b2b2b" stroke-width="1"/>
<line x1="537.10" y1="404.30" x2="538.90" y2="404.30" stroke="#2b2b2b" stroke-width="1"/>
<line x1="316.80" y1="384.09" x2="318.60" y2="384.09" stroke="#2b2b2b" stroke-width="1"/>
<line x1="537.10" y1="384.09" x2="538.90" y2="384.09" stroke="#2b2b2b" stroke-width="1"/>
<line x1="316.80" y1="363.89" x2="318.60" y2="363.89" stroke="#2b2b2b" stroke-width="1"/>
<line x1="537.10" y1="363.89" x2="538.90" y2="363.89" stroke="#2b2b2b" stroke-width="1"/>
<line x1="316.80" y1="343.69" x2="318.60" y2="343.69" stroke="#2b2b2b" stroke-width="1"/>
<line x1="537.10" y1="343.69" x2="538.90" y2="343.69" stroke="#2b2b2b" stroke-width="1"/>
<line x1="316.80" y1="323.48" x2="318.60" y2="323.48" stroke="#2b2b2b" stroke-width="1"/>
<line x1="537.10" y1="323.48" x2="538.90" y2="323.48" stroke="#2b2b2b" stroke-width="1"/>
<line x1="316.80" y1="303.28" x2="318.60" y2="303.28" stroke="#2b2b2b" stroke-width="1"/>
<line x1="537.10" y1="303.28" x2="538.90" y2="303.28" stroke="#2b2b2b" stroke-width="1"/>
<line x1="316.80" y1="283.07" x2="318.60" y2="283.07" stroke="#2b2b2b" stroke-width="1"/>
<line x1="537.10" y1="283.07" x2="538.90" y2="283.07" stroke="#2b2b2b" stroke-width="1"/>
<line x1="316.80" y1="262.87" x2="318.60" y2="262.87" stroke="#2b2b2b" stroke-width="1"/>
<line x1="537.10" y1="262.87" x2="538.90" y2="262.87" stroke="#2b2b2b" stroke-width="1"/>
<line x1="316.80" y1="242.67" x2="318.60" y2="242.67" stroke="#2b2b2b" stroke-width="1"/>
<line x1="537.10" y1="242.67" x2="538.90" y2="242.67" stroke="#2b2b2b" stroke-width="1"/>
<text x="312.30" y="418.25" font-size="10.7" text-anchor="end" font-family="Liberation Sans" font-weight="normal" stroke="#111" stroke-width="0.25" >1.2</text>
<text x="312.30" y="398.05" font-size="10.7" text-anchor="end" font-family="Liberation Sans" font-weight="normal" stroke="#111" stroke-width="0.25" >1.5</text>
<text x="312.30" y="377.84" font-size="10.7" text-anchor="end" font-family="Liberation Sans" font-weight="normal" stroke="#111" stroke-width="0.25" >1.8</text>
<text x="312.30" y="357.64" font-size="10.7" text-anchor="end" font-family="Liberation Sans" font-weight="normal" stroke="#111" stroke-width="0.25" >2.1</text>
<text x="312.30" y="337.44" font-size="10.7" text-anchor="end" font-family="Liberation Sans" font-weight="normal" stroke="#111" stroke-width="0.25" >2.4</text>
<text x="312.30" y="317.23" font-size="10.7" text-anchor="end" font-family="Liberation Sans" font-weight="normal" stroke="#111" stroke-width="0.25" >2.7</text>
<text x="312.30" y="297.03" font-size="10.7" text-anchor="end" font-family="Liberation Sans" font-weight="normal" stroke="#111" stroke-width="0.25" >3.0</text>
<text x="312.30" y="276.83" font-size="10.7" text-anchor="end" font-family="Liberation Sans" font-weight="normal" stroke="#111" stroke-width="0.25" >3.3</text>
<text x="312.30" y="256.62" font-size="10.7" text-anchor="end" font-family="Liberation Sans" font-weight="normal" stroke="#111" stroke-width="0.25" >3.6</text>
<text transform="translate(287.3,330.0) rotate(-90)" font-size="10.7" font-family="Liberation Sans" text-anchor="middle" stroke="#111" stroke-width="0.25">n</text>
<text x="435.10" y="442.70" font-size="10.8" text-anchor="middle" font-family="Liberation Sans" font-weight="normal" stroke="#111" stroke-width="0.25" >Wavelength (nm)</text>
<text x="499.50" y="268.30" font-size="11.8" text-anchor="middle" font-family="Liberation Serif" font-weight="bold" stroke="#111" stroke-width="0.25" >(d)</text>
</svg>
</body></html>
